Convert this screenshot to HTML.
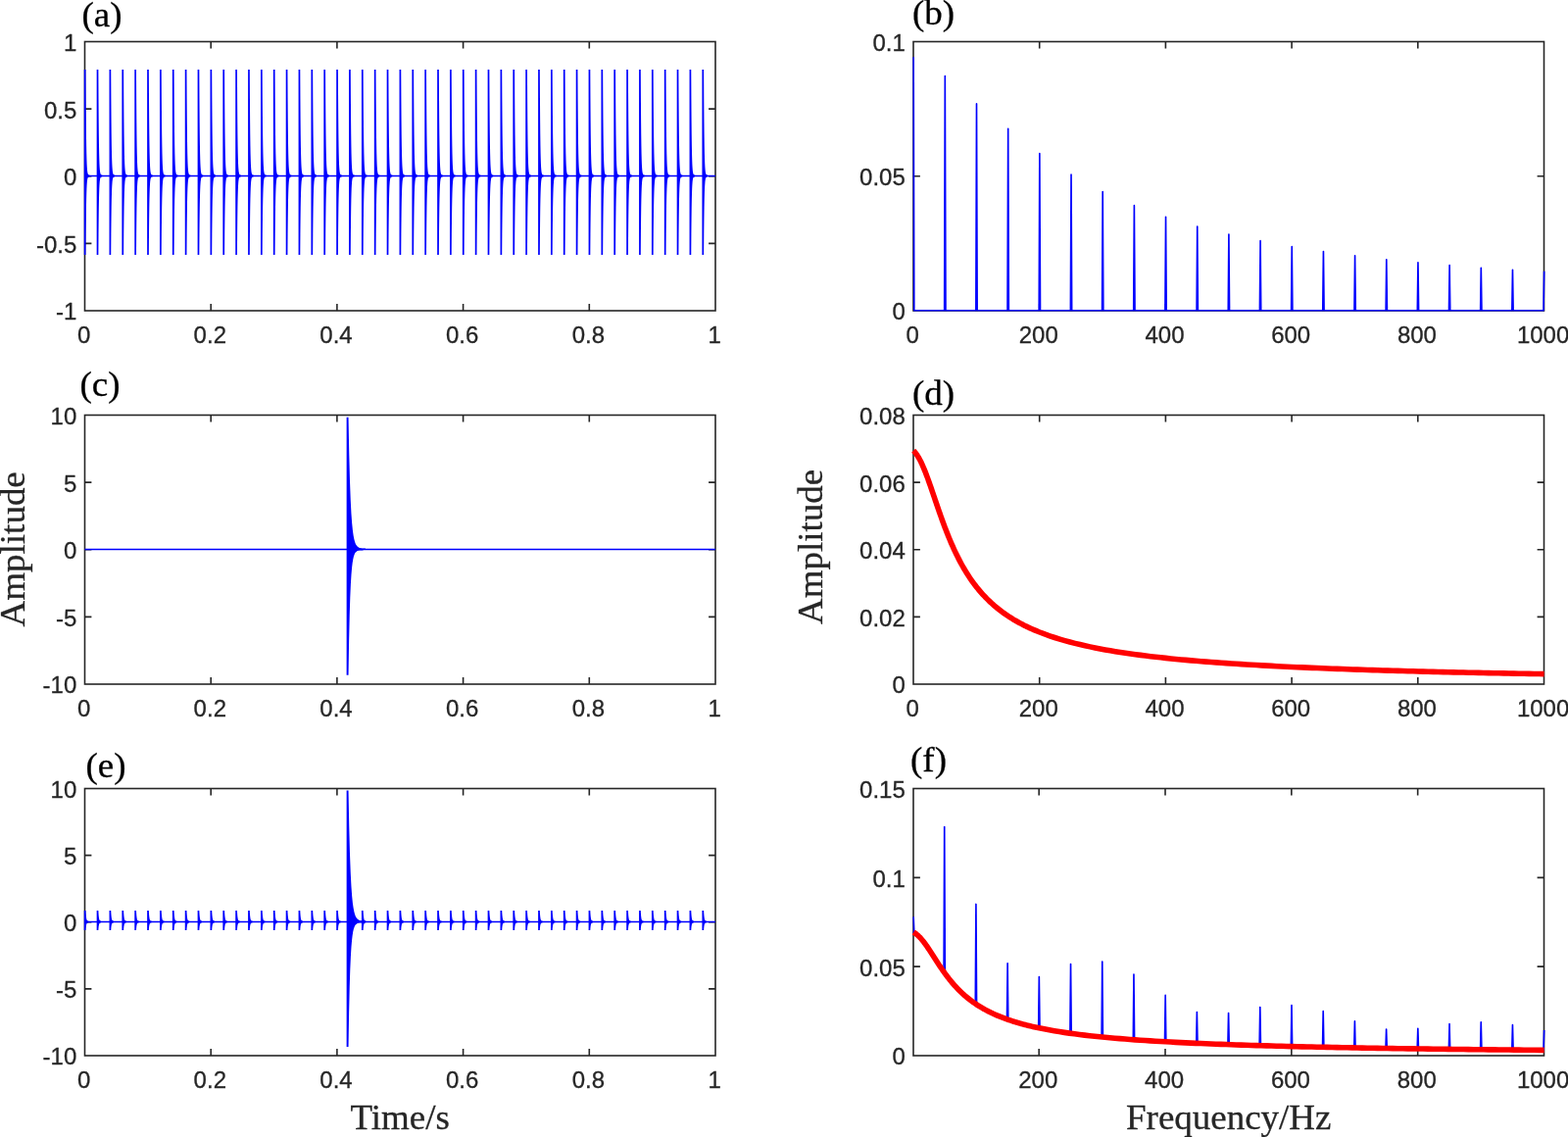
<!DOCTYPE html><html><head><meta charset="utf-8"><style>html,body{margin:0;padding:0;background:#fff;overflow:hidden}svg{display:block}.t{font-family:"Liberation Sans",Arial,sans-serif;font-size:24px;fill:#262626;stroke:#262626;stroke-width:0.3px}.s{font-family:"Liberation Serif","Times New Roman",serif;font-size:37px;stroke-width:0.3px}</style></head><body>
<svg width="1600" height="1160" viewBox="0 0 1600 1160">
<rect width="1600" height="1160" fill="#fff"/>
<defs><clipPath id="cpa"><rect x="82.5" y="38.5" width="651.5" height="282.5"/></clipPath><clipPath id="cpb"><rect x="928" y="38.5" width="651.5" height="282.5"/></clipPath><clipPath id="cpc"><rect x="82.5" y="419.5" width="651.5" height="282.5"/></clipPath><clipPath id="cpd"><rect x="928" y="419.5" width="651.5" height="282.5"/></clipPath><clipPath id="cpe"><rect x="82.5" y="800.5" width="651.5" height="280.5"/></clipPath><clipPath id="cpf"><rect x="928" y="800.5" width="651.5" height="280.5"/></clipPath></defs>
<path d="M215.2 317V310.1M215.2 42.5V49.4M343.9 317V310.1M343.9 42.5V49.4M472.6 317V310.1M472.6 42.5V49.4M601.3 317V310.1M601.3 42.5V49.4M86.5 248.38H93.4M730 248.38H723.1M86.5 179.75H93.4M730 179.75H723.1M86.5 111.12H93.4M730 111.12H723.1" stroke="#262626" stroke-width="1.6" fill="none"/>
<rect x="86.5" y="42.5" width="643.5" height="274.5" stroke="#262626" stroke-width="1.6" fill="none"/>
<path d="M1060.7 317V310.1M1060.7 42.5V49.4M1189.4 317V310.1M1189.4 42.5V49.4M1318.1 317V310.1M1318.1 42.5V49.4M1446.8 317V310.1M1446.8 42.5V49.4M932 179.75H938.9M1575.5 179.75H1568.6" stroke="#262626" stroke-width="1.6" fill="none"/>
<rect x="932" y="42.5" width="643.5" height="274.5" stroke="#262626" stroke-width="1.6" fill="none"/>
<path d="M215.2 698V691.1M215.2 423.5V430.4M343.9 698V691.1M343.9 423.5V430.4M472.6 698V691.1M472.6 423.5V430.4M601.3 698V691.1M601.3 423.5V430.4M86.5 629.38H93.4M730 629.38H723.1M86.5 560.75H93.4M730 560.75H723.1M86.5 492.12H93.4M730 492.12H723.1" stroke="#262626" stroke-width="1.6" fill="none"/>
<rect x="86.5" y="423.5" width="643.5" height="274.5" stroke="#262626" stroke-width="1.6" fill="none"/>
<path d="M1060.7 698V691.1M1060.7 423.5V430.4M1189.4 698V691.1M1189.4 423.5V430.4M1318.1 698V691.1M1318.1 423.5V430.4M1446.8 698V691.1M1446.8 423.5V430.4M932 629.38H938.9M1575.5 629.38H1568.6M932 560.75H938.9M1575.5 560.75H1568.6M932 492.12H938.9M1575.5 492.12H1568.6" stroke="#262626" stroke-width="1.6" fill="none"/>
<rect x="932" y="423.5" width="643.5" height="274.5" stroke="#262626" stroke-width="1.6" fill="none"/>
<path d="M215.2 1077V1070.1M215.2 804.5V811.4M343.9 1077V1070.1M343.9 804.5V811.4M472.6 1077V1070.1M472.6 804.5V811.4M601.3 1077V1070.1M601.3 804.5V811.4M86.5 1008.88H93.4M730 1008.88H723.1M86.5 940.75H93.4M730 940.75H723.1M86.5 872.62H93.4M730 872.62H723.1" stroke="#262626" stroke-width="1.6" fill="none"/>
<rect x="86.5" y="804.5" width="643.5" height="272.5" stroke="#262626" stroke-width="1.6" fill="none"/>
<path d="M1060.18 1077V1070.1M1060.18 804.5V811.4M1189.01 1077V1070.1M1189.01 804.5V811.4M1317.84 1077V1070.1M1317.84 804.5V811.4M1446.67 1077V1070.1M1446.67 804.5V811.4M932 986.17H938.9M1575.5 986.17H1568.6M932 895.33H938.9M1575.5 895.33H1568.6" stroke="#262626" stroke-width="1.6" fill="none"/>
<rect x="932" y="804.5" width="643.5" height="272.5" stroke="#262626" stroke-width="1.6" fill="none"/>
<g clip-path="url(#cpa)"><path d="M86.5 179.5H730" stroke="#0000ff" stroke-width="1.65" fill="none"/>
<path d="M85.80 71.00L87.50 71.00L87.66 100.47L87.82 121.87L87.98 137.42L88.14 148.71L88.30 156.91L88.46 162.87L88.62 167.19L88.78 170.34L88.94 172.62L89.10 174.28L89.26 175.48L89.42 176.35L89.58 176.99L89.74 177.45L89.90 177.79L90.06 178.03L90.22 178.21L90.38 178.33L90.54 178.43L90.70 178.50L90.86 178.54L91.02 178.58L91.18 178.61L91.34 178.62L91.34 179.50L91.19 180.38L91.03 180.39L90.88 180.42L90.73 180.45L90.57 180.50L90.42 180.56L90.27 180.64L90.11 180.75L89.96 180.91L89.80 181.12L89.65 181.40L89.50 181.79L89.34 182.32L89.19 183.04L89.04 184.01L88.88 185.34L88.73 187.15L88.58 189.60L88.42 192.94L88.27 197.47L88.11 203.64L87.96 212.02L87.81 223.42L87.65 238.92L87.50 260.00L85.80 260.00ZM98.67 71.00L100.37 71.00L100.53 100.47L100.69 121.87L100.85 137.42L101.01 148.71L101.17 156.91L101.33 162.87L101.49 167.19L101.65 170.34L101.81 172.62L101.97 174.28L102.13 175.48L102.29 176.35L102.45 176.99L102.61 177.45L102.77 177.79L102.93 178.03L103.09 178.21L103.25 178.33L103.41 178.43L103.57 178.50L103.73 178.54L103.89 178.58L104.05 178.61L104.21 178.62L104.21 179.50L104.06 180.38L103.90 180.39L103.75 180.42L103.60 180.45L103.44 180.50L103.29 180.56L103.14 180.64L102.98 180.75L102.83 180.91L102.67 181.12L102.52 181.40L102.37 181.79L102.21 182.32L102.06 183.04L101.91 184.01L101.75 185.34L101.60 187.15L101.45 189.60L101.29 192.94L101.14 197.47L100.98 203.64L100.83 212.02L100.68 223.42L100.52 238.92L100.37 260.00L98.67 260.00ZM111.54 71.00L113.24 71.00L113.40 100.47L113.56 121.87L113.72 137.42L113.88 148.71L114.04 156.91L114.20 162.87L114.36 167.19L114.52 170.34L114.68 172.62L114.84 174.28L115.00 175.48L115.16 176.35L115.32 176.99L115.48 177.45L115.64 177.79L115.80 178.03L115.96 178.21L116.12 178.33L116.28 178.43L116.44 178.50L116.60 178.54L116.76 178.58L116.92 178.61L117.08 178.62L117.08 179.50L116.93 180.38L116.77 180.39L116.62 180.42L116.47 180.45L116.31 180.50L116.16 180.56L116.01 180.64L115.85 180.75L115.70 180.91L115.54 181.12L115.39 181.40L115.24 181.79L115.08 182.32L114.93 183.04L114.78 184.01L114.62 185.34L114.47 187.15L114.32 189.60L114.16 192.94L114.01 197.47L113.85 203.64L113.70 212.02L113.55 223.42L113.39 238.92L113.24 260.00L111.54 260.00ZM124.41 71.00L126.11 71.00L126.27 100.47L126.43 121.87L126.59 137.42L126.75 148.71L126.91 156.91L127.07 162.87L127.23 167.19L127.39 170.34L127.55 172.62L127.71 174.28L127.87 175.48L128.03 176.35L128.19 176.99L128.35 177.45L128.51 177.79L128.67 178.03L128.83 178.21L128.99 178.33L129.15 178.43L129.31 178.50L129.47 178.54L129.63 178.58L129.79 178.61L129.95 178.62L129.95 179.50L129.80 180.38L129.64 180.39L129.49 180.42L129.34 180.45L129.18 180.50L129.03 180.56L128.88 180.64L128.72 180.75L128.57 180.91L128.41 181.12L128.26 181.40L128.11 181.79L127.95 182.32L127.80 183.04L127.65 184.01L127.49 185.34L127.34 187.15L127.19 189.60L127.03 192.94L126.88 197.47L126.72 203.64L126.57 212.02L126.42 223.42L126.26 238.92L126.11 260.00L124.41 260.00ZM137.28 71.00L138.98 71.00L139.14 100.47L139.30 121.87L139.46 137.42L139.62 148.71L139.78 156.91L139.94 162.87L140.10 167.19L140.26 170.34L140.42 172.62L140.58 174.28L140.74 175.48L140.90 176.35L141.06 176.99L141.22 177.45L141.38 177.79L141.54 178.03L141.70 178.21L141.86 178.33L142.02 178.43L142.18 178.50L142.34 178.54L142.50 178.58L142.66 178.61L142.82 178.62L142.82 179.50L142.67 180.38L142.51 180.39L142.36 180.42L142.21 180.45L142.05 180.50L141.90 180.56L141.75 180.64L141.59 180.75L141.44 180.91L141.28 181.12L141.13 181.40L140.98 181.79L140.82 182.32L140.67 183.04L140.52 184.01L140.36 185.34L140.21 187.15L140.06 189.60L139.90 192.94L139.75 197.47L139.59 203.64L139.44 212.02L139.29 223.42L139.13 238.92L138.98 260.00L137.28 260.00ZM150.15 71.00L151.85 71.00L152.01 100.47L152.17 121.87L152.33 137.42L152.49 148.71L152.65 156.91L152.81 162.87L152.97 167.19L153.13 170.34L153.29 172.62L153.45 174.28L153.61 175.48L153.77 176.35L153.93 176.99L154.09 177.45L154.25 177.79L154.41 178.03L154.57 178.21L154.73 178.33L154.89 178.43L155.05 178.50L155.21 178.54L155.37 178.58L155.53 178.61L155.69 178.62L155.69 179.50L155.54 180.38L155.38 180.39L155.23 180.42L155.08 180.45L154.92 180.50L154.77 180.56L154.62 180.64L154.46 180.75L154.31 180.91L154.15 181.12L154.00 181.40L153.85 181.79L153.69 182.32L153.54 183.04L153.39 184.01L153.23 185.34L153.08 187.15L152.93 189.60L152.77 192.94L152.62 197.47L152.46 203.64L152.31 212.02L152.16 223.42L152.00 238.92L151.85 260.00L150.15 260.00ZM163.02 71.00L164.72 71.00L164.88 100.47L165.04 121.87L165.20 137.42L165.36 148.71L165.52 156.91L165.68 162.87L165.84 167.19L166.00 170.34L166.16 172.62L166.32 174.28L166.48 175.48L166.64 176.35L166.80 176.99L166.96 177.45L167.12 177.79L167.28 178.03L167.44 178.21L167.60 178.33L167.76 178.43L167.92 178.50L168.08 178.54L168.24 178.58L168.40 178.61L168.56 178.62L168.56 179.50L168.41 180.38L168.25 180.39L168.10 180.42L167.95 180.45L167.79 180.50L167.64 180.56L167.49 180.64L167.33 180.75L167.18 180.91L167.02 181.12L166.87 181.40L166.72 181.79L166.56 182.32L166.41 183.04L166.26 184.01L166.10 185.34L165.95 187.15L165.80 189.60L165.64 192.94L165.49 197.47L165.33 203.64L165.18 212.02L165.03 223.42L164.87 238.92L164.72 260.00L163.02 260.00ZM175.89 71.00L177.59 71.00L177.75 100.47L177.91 121.87L178.07 137.42L178.23 148.71L178.39 156.91L178.55 162.87L178.71 167.19L178.87 170.34L179.03 172.62L179.19 174.28L179.35 175.48L179.51 176.35L179.67 176.99L179.83 177.45L179.99 177.79L180.15 178.03L180.31 178.21L180.47 178.33L180.63 178.43L180.79 178.50L180.95 178.54L181.11 178.58L181.27 178.61L181.43 178.62L181.43 179.50L181.28 180.38L181.12 180.39L180.97 180.42L180.82 180.45L180.66 180.50L180.51 180.56L180.36 180.64L180.20 180.75L180.05 180.91L179.89 181.12L179.74 181.40L179.59 181.79L179.43 182.32L179.28 183.04L179.13 184.01L178.97 185.34L178.82 187.15L178.67 189.60L178.51 192.94L178.36 197.47L178.20 203.64L178.05 212.02L177.90 223.42L177.74 238.92L177.59 260.00L175.89 260.00ZM188.76 71.00L190.46 71.00L190.62 100.47L190.78 121.87L190.94 137.42L191.10 148.71L191.26 156.91L191.42 162.87L191.58 167.19L191.74 170.34L191.90 172.62L192.06 174.28L192.22 175.48L192.38 176.35L192.54 176.99L192.70 177.45L192.86 177.79L193.02 178.03L193.18 178.21L193.34 178.33L193.50 178.43L193.66 178.50L193.82 178.54L193.98 178.58L194.14 178.61L194.30 178.62L194.30 179.50L194.15 180.38L193.99 180.39L193.84 180.42L193.69 180.45L193.53 180.50L193.38 180.56L193.23 180.64L193.07 180.75L192.92 180.91L192.76 181.12L192.61 181.40L192.46 181.79L192.30 182.32L192.15 183.04L192.00 184.01L191.84 185.34L191.69 187.15L191.54 189.60L191.38 192.94L191.23 197.47L191.07 203.64L190.92 212.02L190.77 223.42L190.61 238.92L190.46 260.00L188.76 260.00ZM201.63 71.00L203.33 71.00L203.49 100.47L203.65 121.87L203.81 137.42L203.97 148.71L204.13 156.91L204.29 162.87L204.45 167.19L204.61 170.34L204.77 172.62L204.93 174.28L205.09 175.48L205.25 176.35L205.41 176.99L205.57 177.45L205.73 177.79L205.89 178.03L206.05 178.21L206.21 178.33L206.37 178.43L206.53 178.50L206.69 178.54L206.85 178.58L207.01 178.61L207.17 178.62L207.17 179.50L207.02 180.38L206.86 180.39L206.71 180.42L206.56 180.45L206.40 180.50L206.25 180.56L206.10 180.64L205.94 180.75L205.79 180.91L205.63 181.12L205.48 181.40L205.33 181.79L205.17 182.32L205.02 183.04L204.87 184.01L204.71 185.34L204.56 187.15L204.41 189.60L204.25 192.94L204.10 197.47L203.94 203.64L203.79 212.02L203.64 223.42L203.48 238.92L203.33 260.00L201.63 260.00ZM214.50 71.00L216.20 71.00L216.36 100.47L216.52 121.87L216.68 137.42L216.84 148.71L217.00 156.91L217.16 162.87L217.32 167.19L217.48 170.34L217.64 172.62L217.80 174.28L217.96 175.48L218.12 176.35L218.28 176.99L218.44 177.45L218.60 177.79L218.76 178.03L218.92 178.21L219.08 178.33L219.24 178.43L219.40 178.50L219.56 178.54L219.72 178.58L219.88 178.61L220.04 178.62L220.04 179.50L219.89 180.38L219.73 180.39L219.58 180.42L219.43 180.45L219.27 180.50L219.12 180.56L218.97 180.64L218.81 180.75L218.66 180.91L218.50 181.12L218.35 181.40L218.20 181.79L218.04 182.32L217.89 183.04L217.74 184.01L217.58 185.34L217.43 187.15L217.28 189.60L217.12 192.94L216.97 197.47L216.81 203.64L216.66 212.02L216.51 223.42L216.35 238.92L216.20 260.00L214.50 260.00ZM227.37 71.00L229.07 71.00L229.23 100.47L229.39 121.87L229.55 137.42L229.71 148.71L229.87 156.91L230.03 162.87L230.19 167.19L230.35 170.34L230.51 172.62L230.67 174.28L230.83 175.48L230.99 176.35L231.15 176.99L231.31 177.45L231.47 177.79L231.63 178.03L231.79 178.21L231.95 178.33L232.11 178.43L232.27 178.50L232.43 178.54L232.59 178.58L232.75 178.61L232.91 178.62L232.91 179.50L232.76 180.38L232.60 180.39L232.45 180.42L232.30 180.45L232.14 180.50L231.99 180.56L231.84 180.64L231.68 180.75L231.53 180.91L231.37 181.12L231.22 181.40L231.07 181.79L230.91 182.32L230.76 183.04L230.61 184.01L230.45 185.34L230.30 187.15L230.15 189.60L229.99 192.94L229.84 197.47L229.68 203.64L229.53 212.02L229.38 223.42L229.22 238.92L229.07 260.00L227.37 260.00ZM240.24 71.00L241.94 71.00L242.10 100.47L242.26 121.87L242.42 137.42L242.58 148.71L242.74 156.91L242.90 162.87L243.06 167.19L243.22 170.34L243.38 172.62L243.54 174.28L243.70 175.48L243.86 176.35L244.02 176.99L244.18 177.45L244.34 177.79L244.50 178.03L244.66 178.21L244.82 178.33L244.98 178.43L245.14 178.50L245.30 178.54L245.46 178.58L245.62 178.61L245.78 178.62L245.78 179.50L245.63 180.38L245.47 180.39L245.32 180.42L245.17 180.45L245.01 180.50L244.86 180.56L244.71 180.64L244.55 180.75L244.40 180.91L244.24 181.12L244.09 181.40L243.94 181.79L243.78 182.32L243.63 183.04L243.48 184.01L243.32 185.34L243.17 187.15L243.02 189.60L242.86 192.94L242.71 197.47L242.55 203.64L242.40 212.02L242.25 223.42L242.09 238.92L241.94 260.00L240.24 260.00ZM253.11 71.00L254.81 71.00L254.97 100.47L255.13 121.87L255.29 137.42L255.45 148.71L255.61 156.91L255.77 162.87L255.93 167.19L256.09 170.34L256.25 172.62L256.41 174.28L256.57 175.48L256.73 176.35L256.89 176.99L257.05 177.45L257.21 177.79L257.37 178.03L257.53 178.21L257.69 178.33L257.85 178.43L258.01 178.50L258.17 178.54L258.33 178.58L258.49 178.61L258.65 178.62L258.65 179.50L258.50 180.38L258.34 180.39L258.19 180.42L258.04 180.45L257.88 180.50L257.73 180.56L257.58 180.64L257.42 180.75L257.27 180.91L257.11 181.12L256.96 181.40L256.81 181.79L256.65 182.32L256.50 183.04L256.35 184.01L256.19 185.34L256.04 187.15L255.89 189.60L255.73 192.94L255.58 197.47L255.42 203.64L255.27 212.02L255.12 223.42L254.96 238.92L254.81 260.00L253.11 260.00ZM265.98 71.00L267.68 71.00L267.84 100.47L268.00 121.87L268.16 137.42L268.32 148.71L268.48 156.91L268.64 162.87L268.80 167.19L268.96 170.34L269.12 172.62L269.28 174.28L269.44 175.48L269.60 176.35L269.76 176.99L269.92 177.45L270.08 177.79L270.24 178.03L270.40 178.21L270.56 178.33L270.72 178.43L270.88 178.50L271.04 178.54L271.20 178.58L271.36 178.61L271.52 178.62L271.52 179.50L271.37 180.38L271.21 180.39L271.06 180.42L270.91 180.45L270.75 180.50L270.60 180.56L270.45 180.64L270.29 180.75L270.14 180.91L269.98 181.12L269.83 181.40L269.68 181.79L269.52 182.32L269.37 183.04L269.22 184.01L269.06 185.34L268.91 187.15L268.76 189.60L268.60 192.94L268.45 197.47L268.29 203.64L268.14 212.02L267.99 223.42L267.83 238.92L267.68 260.00L265.98 260.00ZM278.85 71.00L280.55 71.00L280.71 100.47L280.87 121.87L281.03 137.42L281.19 148.71L281.35 156.91L281.51 162.87L281.67 167.19L281.83 170.34L281.99 172.62L282.15 174.28L282.31 175.48L282.47 176.35L282.63 176.99L282.79 177.45L282.95 177.79L283.11 178.03L283.27 178.21L283.43 178.33L283.59 178.43L283.75 178.50L283.91 178.54L284.07 178.58L284.23 178.61L284.39 178.62L284.39 179.50L284.24 180.38L284.08 180.39L283.93 180.42L283.78 180.45L283.62 180.50L283.47 180.56L283.32 180.64L283.16 180.75L283.01 180.91L282.85 181.12L282.70 181.40L282.55 181.79L282.39 182.32L282.24 183.04L282.09 184.01L281.93 185.34L281.78 187.15L281.63 189.60L281.47 192.94L281.32 197.47L281.16 203.64L281.01 212.02L280.86 223.42L280.70 238.92L280.55 260.00L278.85 260.00ZM291.72 71.00L293.42 71.00L293.58 100.47L293.74 121.87L293.90 137.42L294.06 148.71L294.22 156.91L294.38 162.87L294.54 167.19L294.70 170.34L294.86 172.62L295.02 174.28L295.18 175.48L295.34 176.35L295.50 176.99L295.66 177.45L295.82 177.79L295.98 178.03L296.14 178.21L296.30 178.33L296.46 178.43L296.62 178.50L296.78 178.54L296.94 178.58L297.10 178.61L297.26 178.62L297.26 179.50L297.11 180.38L296.95 180.39L296.80 180.42L296.65 180.45L296.49 180.50L296.34 180.56L296.19 180.64L296.03 180.75L295.88 180.91L295.72 181.12L295.57 181.40L295.42 181.79L295.26 182.32L295.11 183.04L294.96 184.01L294.80 185.34L294.65 187.15L294.50 189.60L294.34 192.94L294.19 197.47L294.03 203.64L293.88 212.02L293.73 223.42L293.57 238.92L293.42 260.00L291.72 260.00ZM304.59 71.00L306.29 71.00L306.45 100.47L306.61 121.87L306.77 137.42L306.93 148.71L307.09 156.91L307.25 162.87L307.41 167.19L307.57 170.34L307.73 172.62L307.89 174.28L308.05 175.48L308.21 176.35L308.37 176.99L308.53 177.45L308.69 177.79L308.85 178.03L309.01 178.21L309.17 178.33L309.33 178.43L309.49 178.50L309.65 178.54L309.81 178.58L309.97 178.61L310.13 178.62L310.13 179.50L309.98 180.38L309.82 180.39L309.67 180.42L309.52 180.45L309.36 180.50L309.21 180.56L309.06 180.64L308.90 180.75L308.75 180.91L308.59 181.12L308.44 181.40L308.29 181.79L308.13 182.32L307.98 183.04L307.83 184.01L307.67 185.34L307.52 187.15L307.37 189.60L307.21 192.94L307.06 197.47L306.90 203.64L306.75 212.02L306.60 223.42L306.44 238.92L306.29 260.00L304.59 260.00ZM317.46 71.00L319.16 71.00L319.32 100.47L319.48 121.87L319.64 137.42L319.80 148.71L319.96 156.91L320.12 162.87L320.28 167.19L320.44 170.34L320.60 172.62L320.76 174.28L320.92 175.48L321.08 176.35L321.24 176.99L321.40 177.45L321.56 177.79L321.72 178.03L321.88 178.21L322.04 178.33L322.20 178.43L322.36 178.50L322.52 178.54L322.68 178.58L322.84 178.61L323.00 178.62L323.00 179.50L322.85 180.38L322.69 180.39L322.54 180.42L322.39 180.45L322.23 180.50L322.08 180.56L321.93 180.64L321.77 180.75L321.62 180.91L321.46 181.12L321.31 181.40L321.16 181.79L321.00 182.32L320.85 183.04L320.70 184.01L320.54 185.34L320.39 187.15L320.24 189.60L320.08 192.94L319.93 197.47L319.77 203.64L319.62 212.02L319.47 223.42L319.31 238.92L319.16 260.00L317.46 260.00ZM330.33 71.00L332.03 71.00L332.19 100.47L332.35 121.87L332.51 137.42L332.67 148.71L332.83 156.91L332.99 162.87L333.15 167.19L333.31 170.34L333.47 172.62L333.63 174.28L333.79 175.48L333.95 176.35L334.11 176.99L334.27 177.45L334.43 177.79L334.59 178.03L334.75 178.21L334.91 178.33L335.07 178.43L335.23 178.50L335.39 178.54L335.55 178.58L335.71 178.61L335.87 178.62L335.87 179.50L335.72 180.38L335.56 180.39L335.41 180.42L335.26 180.45L335.10 180.50L334.95 180.56L334.80 180.64L334.64 180.75L334.49 180.91L334.33 181.12L334.18 181.40L334.03 181.79L333.87 182.32L333.72 183.04L333.57 184.01L333.41 185.34L333.26 187.15L333.11 189.60L332.95 192.94L332.80 197.47L332.64 203.64L332.49 212.02L332.34 223.42L332.18 238.92L332.03 260.00L330.33 260.00ZM343.20 71.00L344.90 71.00L345.06 100.47L345.22 121.87L345.38 137.42L345.54 148.71L345.70 156.91L345.86 162.87L346.02 167.19L346.18 170.34L346.34 172.62L346.50 174.28L346.66 175.48L346.82 176.35L346.98 176.99L347.14 177.45L347.30 177.79L347.46 178.03L347.62 178.21L347.78 178.33L347.94 178.43L348.10 178.50L348.26 178.54L348.42 178.58L348.58 178.61L348.74 178.62L348.74 179.50L348.59 180.38L348.43 180.39L348.28 180.42L348.13 180.45L347.97 180.50L347.82 180.56L347.67 180.64L347.51 180.75L347.36 180.91L347.20 181.12L347.05 181.40L346.90 181.79L346.74 182.32L346.59 183.04L346.44 184.01L346.28 185.34L346.13 187.15L345.98 189.60L345.82 192.94L345.67 197.47L345.51 203.64L345.36 212.02L345.21 223.42L345.05 238.92L344.90 260.00L343.20 260.00ZM356.07 71.00L357.77 71.00L357.93 100.47L358.09 121.87L358.25 137.42L358.41 148.71L358.57 156.91L358.73 162.87L358.89 167.19L359.05 170.34L359.21 172.62L359.37 174.28L359.53 175.48L359.69 176.35L359.85 176.99L360.01 177.45L360.17 177.79L360.33 178.03L360.49 178.21L360.65 178.33L360.81 178.43L360.97 178.50L361.13 178.54L361.29 178.58L361.45 178.61L361.61 178.62L361.61 179.50L361.46 180.38L361.30 180.39L361.15 180.42L361.00 180.45L360.84 180.50L360.69 180.56L360.54 180.64L360.38 180.75L360.23 180.91L360.07 181.12L359.92 181.40L359.77 181.79L359.61 182.32L359.46 183.04L359.31 184.01L359.15 185.34L359.00 187.15L358.85 189.60L358.69 192.94L358.54 197.47L358.38 203.64L358.23 212.02L358.08 223.42L357.92 238.92L357.77 260.00L356.07 260.00ZM368.94 71.00L370.64 71.00L370.80 100.47L370.96 121.87L371.12 137.42L371.28 148.71L371.44 156.91L371.60 162.87L371.76 167.19L371.92 170.34L372.08 172.62L372.24 174.28L372.40 175.48L372.56 176.35L372.72 176.99L372.88 177.45L373.04 177.79L373.20 178.03L373.36 178.21L373.52 178.33L373.68 178.43L373.84 178.50L374.00 178.54L374.16 178.58L374.32 178.61L374.48 178.62L374.48 179.50L374.33 180.38L374.17 180.39L374.02 180.42L373.87 180.45L373.71 180.50L373.56 180.56L373.41 180.64L373.25 180.75L373.10 180.91L372.94 181.12L372.79 181.40L372.64 181.79L372.48 182.32L372.33 183.04L372.18 184.01L372.02 185.34L371.87 187.15L371.72 189.60L371.56 192.94L371.41 197.47L371.25 203.64L371.10 212.02L370.95 223.42L370.79 238.92L370.64 260.00L368.94 260.00ZM381.81 71.00L383.51 71.00L383.67 100.47L383.83 121.87L383.99 137.42L384.15 148.71L384.31 156.91L384.47 162.87L384.63 167.19L384.79 170.34L384.95 172.62L385.11 174.28L385.27 175.48L385.43 176.35L385.59 176.99L385.75 177.45L385.91 177.79L386.07 178.03L386.23 178.21L386.39 178.33L386.55 178.43L386.71 178.50L386.87 178.54L387.03 178.58L387.19 178.61L387.35 178.62L387.35 179.50L387.20 180.38L387.04 180.39L386.89 180.42L386.74 180.45L386.58 180.50L386.43 180.56L386.28 180.64L386.12 180.75L385.97 180.91L385.81 181.12L385.66 181.40L385.51 181.79L385.35 182.32L385.20 183.04L385.05 184.01L384.89 185.34L384.74 187.15L384.59 189.60L384.43 192.94L384.28 197.47L384.12 203.64L383.97 212.02L383.82 223.42L383.66 238.92L383.51 260.00L381.81 260.00ZM394.68 71.00L396.38 71.00L396.54 100.47L396.70 121.87L396.86 137.42L397.02 148.71L397.18 156.91L397.34 162.87L397.50 167.19L397.66 170.34L397.82 172.62L397.98 174.28L398.14 175.48L398.30 176.35L398.46 176.99L398.62 177.45L398.78 177.79L398.94 178.03L399.10 178.21L399.26 178.33L399.42 178.43L399.58 178.50L399.74 178.54L399.90 178.58L400.06 178.61L400.22 178.62L400.22 179.50L400.07 180.38L399.91 180.39L399.76 180.42L399.61 180.45L399.45 180.50L399.30 180.56L399.15 180.64L398.99 180.75L398.84 180.91L398.68 181.12L398.53 181.40L398.38 181.79L398.22 182.32L398.07 183.04L397.92 184.01L397.76 185.34L397.61 187.15L397.46 189.60L397.30 192.94L397.15 197.47L396.99 203.64L396.84 212.02L396.69 223.42L396.53 238.92L396.38 260.00L394.68 260.00ZM407.55 71.00L409.25 71.00L409.41 100.47L409.57 121.87L409.73 137.42L409.89 148.71L410.05 156.91L410.21 162.87L410.37 167.19L410.53 170.34L410.69 172.62L410.85 174.28L411.01 175.48L411.17 176.35L411.33 176.99L411.49 177.45L411.65 177.79L411.81 178.03L411.97 178.21L412.13 178.33L412.29 178.43L412.45 178.50L412.61 178.54L412.77 178.58L412.93 178.61L413.09 178.62L413.09 179.50L412.94 180.38L412.78 180.39L412.63 180.42L412.48 180.45L412.32 180.50L412.17 180.56L412.02 180.64L411.86 180.75L411.71 180.91L411.55 181.12L411.40 181.40L411.25 181.79L411.09 182.32L410.94 183.04L410.79 184.01L410.63 185.34L410.48 187.15L410.33 189.60L410.17 192.94L410.02 197.47L409.86 203.64L409.71 212.02L409.56 223.42L409.40 238.92L409.25 260.00L407.55 260.00ZM420.42 71.00L422.12 71.00L422.28 100.47L422.44 121.87L422.60 137.42L422.76 148.71L422.92 156.91L423.08 162.87L423.24 167.19L423.40 170.34L423.56 172.62L423.72 174.28L423.88 175.48L424.04 176.35L424.20 176.99L424.36 177.45L424.52 177.79L424.68 178.03L424.84 178.21L425.00 178.33L425.16 178.43L425.32 178.50L425.48 178.54L425.64 178.58L425.80 178.61L425.96 178.62L425.96 179.50L425.81 180.38L425.65 180.39L425.50 180.42L425.35 180.45L425.19 180.50L425.04 180.56L424.89 180.64L424.73 180.75L424.58 180.91L424.42 181.12L424.27 181.40L424.12 181.79L423.96 182.32L423.81 183.04L423.66 184.01L423.50 185.34L423.35 187.15L423.20 189.60L423.04 192.94L422.89 197.47L422.73 203.64L422.58 212.02L422.43 223.42L422.27 238.92L422.12 260.00L420.42 260.00ZM433.29 71.00L434.99 71.00L435.15 100.47L435.31 121.87L435.47 137.42L435.63 148.71L435.79 156.91L435.95 162.87L436.11 167.19L436.27 170.34L436.43 172.62L436.59 174.28L436.75 175.48L436.91 176.35L437.07 176.99L437.23 177.45L437.39 177.79L437.55 178.03L437.71 178.21L437.87 178.33L438.03 178.43L438.19 178.50L438.35 178.54L438.51 178.58L438.67 178.61L438.83 178.62L438.83 179.50L438.68 180.38L438.52 180.39L438.37 180.42L438.22 180.45L438.06 180.50L437.91 180.56L437.76 180.64L437.60 180.75L437.45 180.91L437.29 181.12L437.14 181.40L436.99 181.79L436.83 182.32L436.68 183.04L436.53 184.01L436.37 185.34L436.22 187.15L436.07 189.60L435.91 192.94L435.76 197.47L435.60 203.64L435.45 212.02L435.30 223.42L435.14 238.92L434.99 260.00L433.29 260.00ZM446.16 71.00L447.86 71.00L448.02 100.47L448.18 121.87L448.34 137.42L448.50 148.71L448.66 156.91L448.82 162.87L448.98 167.19L449.14 170.34L449.30 172.62L449.46 174.28L449.62 175.48L449.78 176.35L449.94 176.99L450.10 177.45L450.26 177.79L450.42 178.03L450.58 178.21L450.74 178.33L450.90 178.43L451.06 178.50L451.22 178.54L451.38 178.58L451.54 178.61L451.70 178.62L451.70 179.50L451.55 180.38L451.39 180.39L451.24 180.42L451.09 180.45L450.93 180.50L450.78 180.56L450.63 180.64L450.47 180.75L450.32 180.91L450.16 181.12L450.01 181.40L449.86 181.79L449.70 182.32L449.55 183.04L449.40 184.01L449.24 185.34L449.09 187.15L448.94 189.60L448.78 192.94L448.63 197.47L448.47 203.64L448.32 212.02L448.17 223.42L448.01 238.92L447.86 260.00L446.16 260.00ZM459.03 71.00L460.73 71.00L460.89 100.47L461.05 121.87L461.21 137.42L461.37 148.71L461.53 156.91L461.69 162.87L461.85 167.19L462.01 170.34L462.17 172.62L462.33 174.28L462.49 175.48L462.65 176.35L462.81 176.99L462.97 177.45L463.13 177.79L463.29 178.03L463.45 178.21L463.61 178.33L463.77 178.43L463.93 178.50L464.09 178.54L464.25 178.58L464.41 178.61L464.57 178.62L464.57 179.50L464.42 180.38L464.26 180.39L464.11 180.42L463.96 180.45L463.80 180.50L463.65 180.56L463.50 180.64L463.34 180.75L463.19 180.91L463.03 181.12L462.88 181.40L462.73 181.79L462.57 182.32L462.42 183.04L462.27 184.01L462.11 185.34L461.96 187.15L461.81 189.60L461.65 192.94L461.50 197.47L461.34 203.64L461.19 212.02L461.04 223.42L460.88 238.92L460.73 260.00L459.03 260.00ZM471.90 71.00L473.60 71.00L473.76 100.47L473.92 121.87L474.08 137.42L474.24 148.71L474.40 156.91L474.56 162.87L474.72 167.19L474.88 170.34L475.04 172.62L475.20 174.28L475.36 175.48L475.52 176.35L475.68 176.99L475.84 177.45L476.00 177.79L476.16 178.03L476.32 178.21L476.48 178.33L476.64 178.43L476.80 178.50L476.96 178.54L477.12 178.58L477.28 178.61L477.44 178.62L477.44 179.50L477.29 180.38L477.13 180.39L476.98 180.42L476.83 180.45L476.67 180.50L476.52 180.56L476.37 180.64L476.21 180.75L476.06 180.91L475.90 181.12L475.75 181.40L475.60 181.79L475.44 182.32L475.29 183.04L475.14 184.01L474.98 185.34L474.83 187.15L474.68 189.60L474.52 192.94L474.37 197.47L474.21 203.64L474.06 212.02L473.91 223.42L473.75 238.92L473.60 260.00L471.90 260.00ZM484.77 71.00L486.47 71.00L486.63 100.47L486.79 121.87L486.95 137.42L487.11 148.71L487.27 156.91L487.43 162.87L487.59 167.19L487.75 170.34L487.91 172.62L488.07 174.28L488.23 175.48L488.39 176.35L488.55 176.99L488.71 177.45L488.87 177.79L489.03 178.03L489.19 178.21L489.35 178.33L489.51 178.43L489.67 178.50L489.83 178.54L489.99 178.58L490.15 178.61L490.31 178.62L490.31 179.50L490.16 180.38L490.00 180.39L489.85 180.42L489.70 180.45L489.54 180.50L489.39 180.56L489.24 180.64L489.08 180.75L488.93 180.91L488.77 181.12L488.62 181.40L488.47 181.79L488.31 182.32L488.16 183.04L488.01 184.01L487.85 185.34L487.70 187.15L487.55 189.60L487.39 192.94L487.24 197.47L487.08 203.64L486.93 212.02L486.78 223.42L486.62 238.92L486.47 260.00L484.77 260.00ZM497.64 71.00L499.34 71.00L499.50 100.47L499.66 121.87L499.82 137.42L499.98 148.71L500.14 156.91L500.30 162.87L500.46 167.19L500.62 170.34L500.78 172.62L500.94 174.28L501.10 175.48L501.26 176.35L501.42 176.99L501.58 177.45L501.74 177.79L501.90 178.03L502.06 178.21L502.22 178.33L502.38 178.43L502.54 178.50L502.70 178.54L502.86 178.58L503.02 178.61L503.18 178.62L503.18 179.50L503.03 180.38L502.87 180.39L502.72 180.42L502.57 180.45L502.41 180.50L502.26 180.56L502.11 180.64L501.95 180.75L501.80 180.91L501.64 181.12L501.49 181.40L501.34 181.79L501.18 182.32L501.03 183.04L500.88 184.01L500.72 185.34L500.57 187.15L500.42 189.60L500.26 192.94L500.11 197.47L499.95 203.64L499.80 212.02L499.65 223.42L499.49 238.92L499.34 260.00L497.64 260.00ZM510.51 71.00L512.21 71.00L512.37 100.47L512.53 121.87L512.69 137.42L512.85 148.71L513.01 156.91L513.17 162.87L513.33 167.19L513.49 170.34L513.65 172.62L513.81 174.28L513.97 175.48L514.13 176.35L514.29 176.99L514.45 177.45L514.61 177.79L514.77 178.03L514.93 178.21L515.09 178.33L515.25 178.43L515.41 178.50L515.57 178.54L515.73 178.58L515.89 178.61L516.05 178.62L516.05 179.50L515.90 180.38L515.74 180.39L515.59 180.42L515.44 180.45L515.28 180.50L515.13 180.56L514.98 180.64L514.82 180.75L514.67 180.91L514.51 181.12L514.36 181.40L514.21 181.79L514.05 182.32L513.90 183.04L513.75 184.01L513.59 185.34L513.44 187.15L513.29 189.60L513.13 192.94L512.98 197.47L512.82 203.64L512.67 212.02L512.52 223.42L512.36 238.92L512.21 260.00L510.51 260.00ZM523.38 71.00L525.08 71.00L525.24 100.47L525.40 121.87L525.56 137.42L525.72 148.71L525.88 156.91L526.04 162.87L526.20 167.19L526.36 170.34L526.52 172.62L526.68 174.28L526.84 175.48L527.00 176.35L527.16 176.99L527.32 177.45L527.48 177.79L527.64 178.03L527.80 178.21L527.96 178.33L528.12 178.43L528.28 178.50L528.44 178.54L528.60 178.58L528.76 178.61L528.92 178.62L528.92 179.50L528.77 180.38L528.61 180.39L528.46 180.42L528.31 180.45L528.15 180.50L528.00 180.56L527.85 180.64L527.69 180.75L527.54 180.91L527.38 181.12L527.23 181.40L527.08 181.79L526.92 182.32L526.77 183.04L526.62 184.01L526.46 185.34L526.31 187.15L526.16 189.60L526.00 192.94L525.85 197.47L525.69 203.64L525.54 212.02L525.39 223.42L525.23 238.92L525.08 260.00L523.38 260.00ZM536.25 71.00L537.95 71.00L538.11 100.47L538.27 121.87L538.43 137.42L538.59 148.71L538.75 156.91L538.91 162.87L539.07 167.19L539.23 170.34L539.39 172.62L539.55 174.28L539.71 175.48L539.87 176.35L540.03 176.99L540.19 177.45L540.35 177.79L540.51 178.03L540.67 178.21L540.83 178.33L540.99 178.43L541.15 178.50L541.31 178.54L541.47 178.58L541.63 178.61L541.79 178.62L541.79 179.50L541.64 180.38L541.48 180.39L541.33 180.42L541.18 180.45L541.02 180.50L540.87 180.56L540.72 180.64L540.56 180.75L540.41 180.91L540.25 181.12L540.10 181.40L539.95 181.79L539.79 182.32L539.64 183.04L539.49 184.01L539.33 185.34L539.18 187.15L539.03 189.60L538.87 192.94L538.72 197.47L538.56 203.64L538.41 212.02L538.26 223.42L538.10 238.92L537.95 260.00L536.25 260.00ZM549.12 71.00L550.82 71.00L550.98 100.47L551.14 121.87L551.30 137.42L551.46 148.71L551.62 156.91L551.78 162.87L551.94 167.19L552.10 170.34L552.26 172.62L552.42 174.28L552.58 175.48L552.74 176.35L552.90 176.99L553.06 177.45L553.22 177.79L553.38 178.03L553.54 178.21L553.70 178.33L553.86 178.43L554.02 178.50L554.18 178.54L554.34 178.58L554.50 178.61L554.66 178.62L554.66 179.50L554.51 180.38L554.35 180.39L554.20 180.42L554.05 180.45L553.89 180.50L553.74 180.56L553.59 180.64L553.43 180.75L553.28 180.91L553.12 181.12L552.97 181.40L552.82 181.79L552.66 182.32L552.51 183.04L552.36 184.01L552.20 185.34L552.05 187.15L551.90 189.60L551.74 192.94L551.59 197.47L551.43 203.64L551.28 212.02L551.13 223.42L550.97 238.92L550.82 260.00L549.12 260.00ZM561.99 71.00L563.69 71.00L563.85 100.47L564.01 121.87L564.17 137.42L564.33 148.71L564.49 156.91L564.65 162.87L564.81 167.19L564.97 170.34L565.13 172.62L565.29 174.28L565.45 175.48L565.61 176.35L565.77 176.99L565.93 177.45L566.09 177.79L566.25 178.03L566.41 178.21L566.57 178.33L566.73 178.43L566.89 178.50L567.05 178.54L567.21 178.58L567.37 178.61L567.53 178.62L567.53 179.50L567.38 180.38L567.22 180.39L567.07 180.42L566.92 180.45L566.76 180.50L566.61 180.56L566.46 180.64L566.30 180.75L566.15 180.91L565.99 181.12L565.84 181.40L565.69 181.79L565.53 182.32L565.38 183.04L565.23 184.01L565.07 185.34L564.92 187.15L564.77 189.60L564.61 192.94L564.46 197.47L564.30 203.64L564.15 212.02L564.00 223.42L563.84 238.92L563.69 260.00L561.99 260.00ZM574.86 71.00L576.56 71.00L576.72 100.47L576.88 121.87L577.04 137.42L577.20 148.71L577.36 156.91L577.52 162.87L577.68 167.19L577.84 170.34L578.00 172.62L578.16 174.28L578.32 175.48L578.48 176.35L578.64 176.99L578.80 177.45L578.96 177.79L579.12 178.03L579.28 178.21L579.44 178.33L579.60 178.43L579.76 178.50L579.92 178.54L580.08 178.58L580.24 178.61L580.40 178.62L580.40 179.50L580.25 180.38L580.09 180.39L579.94 180.42L579.79 180.45L579.63 180.50L579.48 180.56L579.33 180.64L579.17 180.75L579.02 180.91L578.86 181.12L578.71 181.40L578.56 181.79L578.40 182.32L578.25 183.04L578.10 184.01L577.94 185.34L577.79 187.15L577.64 189.60L577.48 192.94L577.33 197.47L577.17 203.64L577.02 212.02L576.87 223.42L576.71 238.92L576.56 260.00L574.86 260.00ZM587.73 71.00L589.43 71.00L589.59 100.47L589.75 121.87L589.91 137.42L590.07 148.71L590.23 156.91L590.39 162.87L590.55 167.19L590.71 170.34L590.87 172.62L591.03 174.28L591.19 175.48L591.35 176.35L591.51 176.99L591.67 177.45L591.83 177.79L591.99 178.03L592.15 178.21L592.31 178.33L592.47 178.43L592.63 178.50L592.79 178.54L592.95 178.58L593.11 178.61L593.27 178.62L593.27 179.50L593.12 180.38L592.96 180.39L592.81 180.42L592.66 180.45L592.50 180.50L592.35 180.56L592.20 180.64L592.04 180.75L591.89 180.91L591.73 181.12L591.58 181.40L591.43 181.79L591.27 182.32L591.12 183.04L590.97 184.01L590.81 185.34L590.66 187.15L590.51 189.60L590.35 192.94L590.20 197.47L590.04 203.64L589.89 212.02L589.74 223.42L589.58 238.92L589.43 260.00L587.73 260.00ZM600.60 71.00L602.30 71.00L602.46 100.47L602.62 121.87L602.78 137.42L602.94 148.71L603.10 156.91L603.26 162.87L603.42 167.19L603.58 170.34L603.74 172.62L603.90 174.28L604.06 175.48L604.22 176.35L604.38 176.99L604.54 177.45L604.70 177.79L604.86 178.03L605.02 178.21L605.18 178.33L605.34 178.43L605.50 178.50L605.66 178.54L605.82 178.58L605.98 178.61L606.14 178.62L606.14 179.50L605.99 180.38L605.83 180.39L605.68 180.42L605.53 180.45L605.37 180.50L605.22 180.56L605.07 180.64L604.91 180.75L604.76 180.91L604.60 181.12L604.45 181.40L604.30 181.79L604.14 182.32L603.99 183.04L603.84 184.01L603.68 185.34L603.53 187.15L603.38 189.60L603.22 192.94L603.07 197.47L602.91 203.64L602.76 212.02L602.61 223.42L602.45 238.92L602.30 260.00L600.60 260.00ZM613.47 71.00L615.17 71.00L615.33 100.47L615.49 121.87L615.65 137.42L615.81 148.71L615.97 156.91L616.13 162.87L616.29 167.19L616.45 170.34L616.61 172.62L616.77 174.28L616.93 175.48L617.09 176.35L617.25 176.99L617.41 177.45L617.57 177.79L617.73 178.03L617.89 178.21L618.05 178.33L618.21 178.43L618.37 178.50L618.53 178.54L618.69 178.58L618.85 178.61L619.01 178.62L619.01 179.50L618.86 180.38L618.70 180.39L618.55 180.42L618.40 180.45L618.24 180.50L618.09 180.56L617.94 180.64L617.78 180.75L617.63 180.91L617.47 181.12L617.32 181.40L617.17 181.79L617.01 182.32L616.86 183.04L616.71 184.01L616.55 185.34L616.40 187.15L616.25 189.60L616.09 192.94L615.94 197.47L615.78 203.64L615.63 212.02L615.48 223.42L615.32 238.92L615.17 260.00L613.47 260.00ZM626.34 71.00L628.04 71.00L628.20 100.47L628.36 121.87L628.52 137.42L628.68 148.71L628.84 156.91L629.00 162.87L629.16 167.19L629.32 170.34L629.48 172.62L629.64 174.28L629.80 175.48L629.96 176.35L630.12 176.99L630.28 177.45L630.44 177.79L630.60 178.03L630.76 178.21L630.92 178.33L631.08 178.43L631.24 178.50L631.40 178.54L631.56 178.58L631.72 178.61L631.88 178.62L631.88 179.50L631.73 180.38L631.57 180.39L631.42 180.42L631.27 180.45L631.11 180.50L630.96 180.56L630.81 180.64L630.65 180.75L630.50 180.91L630.34 181.12L630.19 181.40L630.04 181.79L629.88 182.32L629.73 183.04L629.58 184.01L629.42 185.34L629.27 187.15L629.12 189.60L628.96 192.94L628.81 197.47L628.65 203.64L628.50 212.02L628.35 223.42L628.19 238.92L628.04 260.00L626.34 260.00ZM639.21 71.00L640.91 71.00L641.07 100.47L641.23 121.87L641.39 137.42L641.55 148.71L641.71 156.91L641.87 162.87L642.03 167.19L642.19 170.34L642.35 172.62L642.51 174.28L642.67 175.48L642.83 176.35L642.99 176.99L643.15 177.45L643.31 177.79L643.47 178.03L643.63 178.21L643.79 178.33L643.95 178.43L644.11 178.50L644.27 178.54L644.43 178.58L644.59 178.61L644.75 178.62L644.75 179.50L644.60 180.38L644.44 180.39L644.29 180.42L644.14 180.45L643.98 180.50L643.83 180.56L643.68 180.64L643.52 180.75L643.37 180.91L643.21 181.12L643.06 181.40L642.91 181.79L642.75 182.32L642.60 183.04L642.45 184.01L642.29 185.34L642.14 187.15L641.99 189.60L641.83 192.94L641.68 197.47L641.52 203.64L641.37 212.02L641.22 223.42L641.06 238.92L640.91 260.00L639.21 260.00ZM652.08 71.00L653.78 71.00L653.94 100.47L654.10 121.87L654.26 137.42L654.42 148.71L654.58 156.91L654.74 162.87L654.90 167.19L655.06 170.34L655.22 172.62L655.38 174.28L655.54 175.48L655.70 176.35L655.86 176.99L656.02 177.45L656.18 177.79L656.34 178.03L656.50 178.21L656.66 178.33L656.82 178.43L656.98 178.50L657.14 178.54L657.30 178.58L657.46 178.61L657.62 178.62L657.62 179.50L657.47 180.38L657.31 180.39L657.16 180.42L657.01 180.45L656.85 180.50L656.70 180.56L656.55 180.64L656.39 180.75L656.24 180.91L656.08 181.12L655.93 181.40L655.78 181.79L655.62 182.32L655.47 183.04L655.32 184.01L655.16 185.34L655.01 187.15L654.86 189.60L654.70 192.94L654.55 197.47L654.39 203.64L654.24 212.02L654.09 223.42L653.93 238.92L653.78 260.00L652.08 260.00ZM664.95 71.00L666.65 71.00L666.81 100.47L666.97 121.87L667.13 137.42L667.29 148.71L667.45 156.91L667.61 162.87L667.77 167.19L667.93 170.34L668.09 172.62L668.25 174.28L668.41 175.48L668.57 176.35L668.73 176.99L668.89 177.45L669.05 177.79L669.21 178.03L669.37 178.21L669.53 178.33L669.69 178.43L669.85 178.50L670.01 178.54L670.17 178.58L670.33 178.61L670.49 178.62L670.49 179.50L670.34 180.38L670.18 180.39L670.03 180.42L669.88 180.45L669.72 180.50L669.57 180.56L669.42 180.64L669.26 180.75L669.11 180.91L668.95 181.12L668.80 181.40L668.65 181.79L668.49 182.32L668.34 183.04L668.19 184.01L668.03 185.34L667.88 187.15L667.73 189.60L667.57 192.94L667.42 197.47L667.26 203.64L667.11 212.02L666.96 223.42L666.80 238.92L666.65 260.00L664.95 260.00ZM677.82 71.00L679.52 71.00L679.68 100.47L679.84 121.87L680.00 137.42L680.16 148.71L680.32 156.91L680.48 162.87L680.64 167.19L680.80 170.34L680.96 172.62L681.12 174.28L681.28 175.48L681.44 176.35L681.60 176.99L681.76 177.45L681.92 177.79L682.08 178.03L682.24 178.21L682.40 178.33L682.56 178.43L682.72 178.50L682.88 178.54L683.04 178.58L683.20 178.61L683.36 178.62L683.36 179.50L683.21 180.38L683.05 180.39L682.90 180.42L682.75 180.45L682.59 180.50L682.44 180.56L682.29 180.64L682.13 180.75L681.98 180.91L681.82 181.12L681.67 181.40L681.52 181.79L681.36 182.32L681.21 183.04L681.06 184.01L680.90 185.34L680.75 187.15L680.60 189.60L680.44 192.94L680.29 197.47L680.13 203.64L679.98 212.02L679.83 223.42L679.67 238.92L679.52 260.00L677.82 260.00ZM690.69 71.00L692.39 71.00L692.55 100.47L692.71 121.87L692.87 137.42L693.03 148.71L693.19 156.91L693.35 162.87L693.51 167.19L693.67 170.34L693.83 172.62L693.99 174.28L694.15 175.48L694.31 176.35L694.47 176.99L694.63 177.45L694.79 177.79L694.95 178.03L695.11 178.21L695.27 178.33L695.43 178.43L695.59 178.50L695.75 178.54L695.91 178.58L696.07 178.61L696.23 178.62L696.23 179.50L696.08 180.38L695.92 180.39L695.77 180.42L695.62 180.45L695.46 180.50L695.31 180.56L695.16 180.64L695.00 180.75L694.85 180.91L694.69 181.12L694.54 181.40L694.39 181.79L694.23 182.32L694.08 183.04L693.93 184.01L693.77 185.34L693.62 187.15L693.47 189.60L693.31 192.94L693.16 197.47L693.00 203.64L692.85 212.02L692.70 223.42L692.54 238.92L692.39 260.00L690.69 260.00ZM703.56 71.00L705.26 71.00L705.42 100.47L705.58 121.87L705.74 137.42L705.90 148.71L706.06 156.91L706.22 162.87L706.38 167.19L706.54 170.34L706.70 172.62L706.86 174.28L707.02 175.48L707.18 176.35L707.34 176.99L707.50 177.45L707.66 177.79L707.82 178.03L707.98 178.21L708.14 178.33L708.30 178.43L708.46 178.50L708.62 178.54L708.78 178.58L708.94 178.61L709.10 178.62L709.10 179.50L708.95 180.38L708.79 180.39L708.64 180.42L708.49 180.45L708.33 180.50L708.18 180.56L708.03 180.64L707.87 180.75L707.72 180.91L707.56 181.12L707.41 181.40L707.26 181.79L707.10 182.32L706.95 183.04L706.80 184.01L706.64 185.34L706.49 187.15L706.34 189.60L706.18 192.94L706.03 197.47L705.87 203.64L705.72 212.02L705.57 223.42L705.41 238.92L705.26 260.00L703.56 260.00ZM716.43 71.00L718.13 71.00L718.29 100.47L718.45 121.87L718.61 137.42L718.77 148.71L718.93 156.91L719.09 162.87L719.25 167.19L719.41 170.34L719.57 172.62L719.73 174.28L719.89 175.48L720.05 176.35L720.21 176.99L720.37 177.45L720.53 177.79L720.69 178.03L720.85 178.21L721.01 178.33L721.17 178.43L721.33 178.50L721.49 178.54L721.65 178.58L721.81 178.61L721.97 178.62L721.97 179.50L721.82 180.38L721.66 180.39L721.51 180.42L721.36 180.45L721.20 180.50L721.05 180.56L720.90 180.64L720.74 180.75L720.59 180.91L720.43 181.12L720.28 181.40L720.13 181.79L719.97 182.32L719.82 183.04L719.67 184.01L719.51 185.34L719.36 187.15L719.21 189.60L719.05 192.94L718.90 197.47L718.74 203.64L718.59 212.02L718.44 223.42L718.28 238.92L718.13 260.00L716.43 260.00Z" fill="#0000ff"/></g>
<g clip-path="url(#cpb)"><path d="M932.15 58.25L932.79 316.75L932.79 316.75L936.01 316.75L939.23 316.75L942.45 316.75L945.66 316.75L948.88 316.75L952.10 316.75L955.32 316.75L958.53 316.75L961.75 316.75L963.68 316.75L964.32 77.55L964.97 316.75L964.97 316.75L968.19 316.75L971.40 316.75L974.62 316.75L977.84 316.75L981.06 316.75L984.27 316.75L987.49 316.75L990.71 316.75L993.93 316.75L995.86 316.75L996.50 105.90L997.14 316.75L997.14 316.75L1000.36 316.75L1003.58 316.75L1006.80 316.75L1010.01 316.75L1013.23 316.75L1016.45 316.75L1019.67 316.75L1022.88 316.75L1026.10 316.75L1028.03 316.75L1028.68 131.25L1029.32 316.75L1029.32 316.75L1032.54 316.75L1035.75 316.75L1038.97 316.75L1042.19 316.75L1045.41 316.75L1048.62 316.75L1051.84 316.75L1055.06 316.75L1058.28 316.75L1060.21 316.75L1060.85 156.65L1061.49 316.75L1061.49 316.75L1064.71 316.75L1067.93 316.75L1071.15 316.75L1074.36 316.75L1077.58 316.75L1080.80 316.75L1084.02 316.75L1087.23 316.75L1090.45 316.75L1092.38 316.75L1093.03 178.15L1093.67 316.75L1093.67 316.75L1096.89 316.75L1100.10 316.75L1103.32 316.75L1106.54 316.75L1109.76 316.75L1112.97 316.75L1116.19 316.75L1119.41 316.75L1122.63 316.75L1124.56 316.75L1125.20 195.55L1125.84 316.75L1125.84 316.75L1129.06 316.75L1132.28 316.75L1135.50 316.75L1138.71 316.75L1141.93 316.75L1145.15 316.75L1148.37 316.75L1151.58 316.75L1154.80 316.75L1156.73 316.75L1157.38 209.65L1158.02 316.75L1158.02 316.75L1161.24 316.75L1164.45 316.75L1167.67 316.75L1170.89 316.75L1174.11 316.75L1177.32 316.75L1180.54 316.75L1183.76 316.75L1186.98 316.75L1188.91 316.75L1189.55 221.25L1190.19 316.75L1190.19 316.75L1193.41 316.75L1196.63 316.75L1199.85 316.75L1203.06 316.75L1206.28 316.75L1209.50 316.75L1212.72 316.75L1215.93 316.75L1219.15 316.75L1221.08 316.75L1221.73 231.05L1222.37 316.75L1222.37 316.75L1225.59 316.75L1228.80 316.75L1232.02 316.75L1235.24 316.75L1238.46 316.75L1241.67 316.75L1244.89 316.75L1248.11 316.75L1251.33 316.75L1253.26 316.75L1253.90 239.05L1254.54 316.75L1254.54 316.75L1257.76 316.75L1260.98 316.75L1264.20 316.75L1267.41 316.75L1270.63 316.75L1273.85 316.75L1277.07 316.75L1280.28 316.75L1283.50 316.75L1285.43 316.75L1286.08 245.65L1286.72 316.75L1286.72 316.75L1289.94 316.75L1293.15 316.75L1296.37 316.75L1299.59 316.75L1302.81 316.75L1306.02 316.75L1309.24 316.75L1312.46 316.75L1315.68 316.75L1317.61 316.75L1318.25 251.65L1318.89 316.75L1318.89 316.75L1322.11 316.75L1325.33 316.75L1328.55 316.75L1331.76 316.75L1334.98 316.75L1338.20 316.75L1341.42 316.75L1344.63 316.75L1347.85 316.75L1349.78 316.75L1350.43 256.55L1351.07 316.75L1351.07 316.75L1354.29 316.75L1357.50 316.75L1360.72 316.75L1363.94 316.75L1367.16 316.75L1370.37 316.75L1373.59 316.75L1376.81 316.75L1380.03 316.75L1381.96 316.75L1382.60 260.85L1383.24 316.75L1383.24 316.75L1386.46 316.75L1389.68 316.75L1392.90 316.75L1396.11 316.75L1399.33 316.75L1402.55 316.75L1405.77 316.75L1408.98 316.75L1412.20 316.75L1414.13 316.75L1414.78 264.75L1415.42 316.75L1415.42 316.75L1418.64 316.75L1421.85 316.75L1425.07 316.75L1428.29 316.75L1431.51 316.75L1434.72 316.75L1437.94 316.75L1441.16 316.75L1444.38 316.75L1446.31 316.75L1446.95 267.85L1447.59 316.75L1447.59 316.75L1450.81 316.75L1454.03 316.75L1457.25 316.75L1460.46 316.75L1463.68 316.75L1466.90 316.75L1470.12 316.75L1473.33 316.75L1476.55 316.75L1478.48 316.75L1479.12 270.65L1479.77 316.75L1479.77 316.75L1482.99 316.75L1486.20 316.75L1489.42 316.75L1492.64 316.75L1495.86 316.75L1499.07 316.75L1502.29 316.75L1505.51 316.75L1508.73 316.75L1510.66 316.75L1511.30 273.35L1511.94 316.75L1511.94 316.75L1515.16 316.75L1518.38 316.75L1521.60 316.75L1524.81 316.75L1528.03 316.75L1531.25 316.75L1534.47 316.75L1537.68 316.75L1540.90 316.75L1542.83 316.75L1543.47 275.35L1544.12 316.75L1544.12 316.75L1547.34 316.75L1550.55 316.75L1553.77 316.75L1556.99 316.75L1560.21 316.75L1563.42 316.75L1566.64 316.75L1569.86 316.75L1573.08 316.75L1575.01 316.75L1575.65 276.75" stroke="#0000ff" stroke-width="1.65" fill="none" stroke-linejoin="round"/></g>
<g clip-path="url(#cpc)"><path d="M86.5 560.5H730" stroke="#0000ff" stroke-width="1.65" fill="none"/>
<path d="M353.65 425.80L355.55 425.80L356.27 463.32L357.00 490.32L357.72 509.76L358.44 523.75L359.17 533.82L359.89 541.06L360.61 546.28L361.34 550.03L362.06 552.74L362.78 554.68L363.51 556.08L364.23 557.09L364.96 557.81L365.68 558.33L366.40 558.71L367.13 558.98L367.85 559.18L368.57 559.32L369.30 559.42L370.02 559.49L370.74 559.54L371.47 559.58L372.19 559.61L372.91 559.62L372.91 560.50L369.67 561.38L369.08 561.39L368.49 561.42L367.90 561.46L367.32 561.51L366.73 561.58L366.14 561.68L365.55 561.82L364.96 562.01L364.37 562.27L363.79 562.64L363.20 563.15L362.61 563.85L362.02 564.83L361.43 566.18L360.84 568.05L360.26 570.66L359.67 574.26L359.08 579.26L358.49 586.20L357.90 595.81L357.31 609.15L356.73 627.63L356.14 653.26L355.55 688.80L353.65 688.80Z" fill="#0000ff"/></g>
<g clip-path="url(#cpd)"><path d="M932.15 459.78L932.79 460.44L933.44 461.16L934.08 461.94L934.72 462.77L935.37 463.67L936.01 464.62L936.65 465.64L937.30 466.71L937.94 467.84L938.58 469.03L939.23 470.27L939.87 471.57L940.52 472.92L941.16 474.33L941.80 475.78L942.45 477.28L943.09 478.83L943.73 480.42L944.38 482.04L945.02 483.71L945.66 485.41L946.31 487.14L946.95 488.90L947.59 490.68L948.24 492.49L948.88 494.32L949.52 496.16L950.17 498.02L950.81 499.90L951.45 501.78L952.10 503.67L952.74 505.56L953.39 507.46L954.03 509.35L954.67 511.25L955.32 513.14L955.96 515.02L956.60 516.90L957.25 518.77L957.89 520.63L958.53 522.48L959.18 524.31L959.82 526.13L960.46 527.94L961.11 529.73L961.75 531.50L962.39 533.26L963.04 535.00L963.68 536.72L964.32 538.42L964.97 540.10L965.61 541.76L966.26 543.40L966.90 545.02L967.54 546.62L968.19 548.20L968.83 549.76L969.47 551.29L970.12 552.81L970.76 554.31L972.05 557.23L973.33 560.07L974.62 562.84L975.91 565.51L977.19 568.11L978.48 570.64L979.77 573.08L981.06 575.46L982.34 577.76L983.63 579.99L984.92 582.15L986.20 584.25L987.49 586.29L988.78 588.26L990.06 590.18L991.35 592.04L992.64 593.84L993.93 595.60L995.21 597.30L996.50 598.95L997.79 600.55L999.07 602.11L1000.36 603.63L1001.65 605.10L1002.93 606.53L1004.22 607.93L1005.51 609.28L1006.80 610.60L1008.08 611.88L1009.37 613.13L1010.66 614.35L1011.94 615.53L1013.23 616.69L1014.52 617.81L1015.80 618.91L1017.09 619.98L1018.38 621.02L1019.67 622.04L1020.95 623.03L1022.24 624.00L1023.53 624.95L1024.81 625.87L1026.10 626.77L1027.39 627.65L1028.68 628.51L1029.96 629.35L1031.25 630.18L1032.54 630.98L1033.82 631.77L1035.11 632.54L1036.40 633.29L1037.68 634.03L1038.97 634.75L1040.26 635.45L1041.55 636.14L1042.83 636.82L1044.12 637.48L1045.41 638.13L1046.69 638.77L1047.98 639.39L1049.27 640.00L1050.55 640.60L1051.84 641.19L1053.13 641.76L1054.42 642.33L1055.70 642.88L1056.99 643.43L1058.28 643.96L1059.56 644.49L1060.85 645.00L1066.00 646.97L1071.15 648.80L1076.29 650.51L1081.44 652.11L1086.59 653.61L1091.74 655.02L1096.89 656.34L1102.03 657.59L1107.18 658.77L1112.33 659.88L1117.48 660.94L1122.63 661.94L1127.77 662.89L1132.92 663.79L1138.07 664.65L1143.22 665.47L1148.37 666.25L1153.51 666.99L1158.66 667.70L1163.81 668.38L1168.96 669.04L1174.11 669.66L1179.25 670.26L1184.40 670.83L1189.55 671.39L1194.70 671.92L1199.85 672.43L1204.99 672.92L1210.14 673.39L1215.29 673.85L1220.44 674.29L1225.59 674.72L1230.73 675.13L1235.88 675.52L1241.03 675.91L1246.18 676.28L1251.33 676.64L1256.47 676.99L1261.62 677.32L1266.77 677.65L1271.92 677.97L1277.07 678.28L1282.21 678.57L1287.36 678.86L1292.51 679.14L1297.66 679.42L1302.81 679.68L1307.95 679.94L1313.10 680.19L1318.25 680.44L1323.40 680.68L1328.55 680.91L1333.69 681.14L1338.84 681.36L1343.99 681.57L1349.14 681.78L1354.29 681.98L1359.43 682.18L1364.58 682.38L1369.73 682.57L1374.88 682.75L1380.03 682.93L1385.17 683.11L1390.32 683.28L1395.47 683.45L1400.62 683.62L1405.77 683.78L1410.91 683.94L1416.06 684.09L1421.21 684.25L1426.36 684.39L1431.51 684.54L1436.65 684.68L1441.80 684.82L1446.95 684.96L1452.10 685.09L1457.25 685.22L1462.39 685.35L1467.54 685.48L1472.69 685.60L1477.84 685.72L1482.99 685.84L1488.13 685.96L1493.28 686.07L1498.43 686.18L1503.58 686.29L1508.73 686.40L1513.87 686.51L1519.02 686.61L1524.17 686.71L1529.32 686.82L1534.47 686.91L1539.61 687.01L1544.76 687.11L1549.91 687.20L1555.06 687.29L1560.21 687.38L1565.35 687.47L1570.50 687.56L1575.65 687.65" stroke="#ff0000" stroke-width="5.6" fill="none" stroke-linejoin="round" stroke-linecap="butt"/></g>
<g clip-path="url(#cpe)"><path d="M86.5 940.5H730" stroke="#0000ff" stroke-width="1.65" fill="none"/>
<path d="M85.80 928.90L87.50 928.90L87.61 931.06L87.72 932.79L87.84 934.17L87.95 935.27L88.06 936.16L88.17 936.86L88.28 937.43L88.40 937.88L88.51 938.24L88.62 938.53L88.73 938.76L88.84 938.94L88.96 939.09L89.07 939.21L89.18 939.30L89.29 939.38L89.40 939.44L89.51 939.48L89.63 939.52L89.74 939.55L89.85 939.58L89.96 939.60L90.07 939.61L90.19 939.62L90.19 940.50L90.01 941.38L89.91 941.39L89.80 941.40L89.70 941.42L89.59 941.44L89.49 941.47L89.38 941.50L89.28 941.54L89.17 941.59L89.07 941.65L88.96 941.73L88.86 941.82L88.76 941.94L88.65 942.08L88.55 942.26L88.44 942.48L88.34 942.75L88.23 943.08L88.13 943.48L88.02 943.99L87.92 944.61L87.81 945.37L87.71 946.31L87.60 947.47L87.50 948.90L85.80 948.90ZM98.67 928.90L100.37 928.90L100.48 931.06L100.59 932.79L100.71 934.17L100.82 935.27L100.93 936.16L101.04 936.86L101.15 937.43L101.27 937.88L101.38 938.24L101.49 938.53L101.60 938.76L101.71 938.94L101.83 939.09L101.94 939.21L102.05 939.30L102.16 939.38L102.27 939.44L102.38 939.48L102.50 939.52L102.61 939.55L102.72 939.58L102.83 939.60L102.94 939.61L103.06 939.62L103.06 940.50L102.88 941.38L102.78 941.39L102.67 941.40L102.57 941.42L102.46 941.44L102.36 941.47L102.25 941.50L102.15 941.54L102.04 941.59L101.94 941.65L101.83 941.73L101.73 941.82L101.63 941.94L101.52 942.08L101.42 942.26L101.31 942.48L101.21 942.75L101.10 943.08L101.00 943.48L100.89 943.99L100.79 944.61L100.68 945.37L100.58 946.31L100.47 947.47L100.37 948.90L98.67 948.90ZM111.54 928.90L113.24 928.90L113.35 931.06L113.46 932.79L113.58 934.17L113.69 935.27L113.80 936.16L113.91 936.86L114.02 937.43L114.14 937.88L114.25 938.24L114.36 938.53L114.47 938.76L114.58 938.94L114.70 939.09L114.81 939.21L114.92 939.30L115.03 939.38L115.14 939.44L115.25 939.48L115.37 939.52L115.48 939.55L115.59 939.58L115.70 939.60L115.81 939.61L115.93 939.62L115.93 940.50L115.75 941.38L115.65 941.39L115.54 941.40L115.44 941.42L115.33 941.44L115.23 941.47L115.12 941.50L115.02 941.54L114.91 941.59L114.81 941.65L114.70 941.73L114.60 941.82L114.50 941.94L114.39 942.08L114.29 942.26L114.18 942.48L114.08 942.75L113.97 943.08L113.87 943.48L113.76 943.99L113.66 944.61L113.55 945.37L113.45 946.31L113.34 947.47L113.24 948.90L111.54 948.90ZM124.41 928.90L126.11 928.90L126.22 931.06L126.33 932.79L126.45 934.17L126.56 935.27L126.67 936.16L126.78 936.86L126.89 937.43L127.01 937.88L127.12 938.24L127.23 938.53L127.34 938.76L127.45 938.94L127.57 939.09L127.68 939.21L127.79 939.30L127.90 939.38L128.01 939.44L128.12 939.48L128.24 939.52L128.35 939.55L128.46 939.58L128.57 939.60L128.68 939.61L128.80 939.62L128.80 940.50L128.62 941.38L128.52 941.39L128.41 941.40L128.31 941.42L128.20 941.44L128.10 941.47L127.99 941.50L127.89 941.54L127.78 941.59L127.68 941.65L127.57 941.73L127.47 941.82L127.37 941.94L127.26 942.08L127.16 942.26L127.05 942.48L126.95 942.75L126.84 943.08L126.74 943.48L126.63 943.99L126.53 944.61L126.42 945.37L126.32 946.31L126.21 947.47L126.11 948.90L124.41 948.90ZM137.28 928.90L138.98 928.90L139.09 931.06L139.20 932.79L139.32 934.17L139.43 935.27L139.54 936.16L139.65 936.86L139.76 937.43L139.88 937.88L139.99 938.24L140.10 938.53L140.21 938.76L140.32 938.94L140.44 939.09L140.55 939.21L140.66 939.30L140.77 939.38L140.88 939.44L140.99 939.48L141.11 939.52L141.22 939.55L141.33 939.58L141.44 939.60L141.55 939.61L141.67 939.62L141.67 940.50L141.49 941.38L141.39 941.39L141.28 941.40L141.18 941.42L141.07 941.44L140.97 941.47L140.86 941.50L140.76 941.54L140.65 941.59L140.55 941.65L140.44 941.73L140.34 941.82L140.24 941.94L140.13 942.08L140.03 942.26L139.92 942.48L139.82 942.75L139.71 943.08L139.61 943.48L139.50 943.99L139.40 944.61L139.29 945.37L139.19 946.31L139.08 947.47L138.98 948.90L137.28 948.90ZM150.15 928.90L151.85 928.90L151.96 931.06L152.07 932.79L152.19 934.17L152.30 935.27L152.41 936.16L152.52 936.86L152.63 937.43L152.75 937.88L152.86 938.24L152.97 938.53L153.08 938.76L153.19 938.94L153.31 939.09L153.42 939.21L153.53 939.30L153.64 939.38L153.75 939.44L153.86 939.48L153.98 939.52L154.09 939.55L154.20 939.58L154.31 939.60L154.42 939.61L154.54 939.62L154.54 940.50L154.36 941.38L154.26 941.39L154.15 941.40L154.05 941.42L153.94 941.44L153.84 941.47L153.73 941.50L153.63 941.54L153.52 941.59L153.42 941.65L153.31 941.73L153.21 941.82L153.11 941.94L153.00 942.08L152.90 942.26L152.79 942.48L152.69 942.75L152.58 943.08L152.48 943.48L152.37 943.99L152.27 944.61L152.16 945.37L152.06 946.31L151.95 947.47L151.85 948.90L150.15 948.90ZM163.02 928.90L164.72 928.90L164.83 931.06L164.94 932.79L165.06 934.17L165.17 935.27L165.28 936.16L165.39 936.86L165.50 937.43L165.62 937.88L165.73 938.24L165.84 938.53L165.95 938.76L166.06 938.94L166.18 939.09L166.29 939.21L166.40 939.30L166.51 939.38L166.62 939.44L166.73 939.48L166.85 939.52L166.96 939.55L167.07 939.58L167.18 939.60L167.29 939.61L167.41 939.62L167.41 940.50L167.23 941.38L167.13 941.39L167.02 941.40L166.92 941.42L166.81 941.44L166.71 941.47L166.60 941.50L166.50 941.54L166.39 941.59L166.29 941.65L166.18 941.73L166.08 941.82L165.98 941.94L165.87 942.08L165.77 942.26L165.66 942.48L165.56 942.75L165.45 943.08L165.35 943.48L165.24 943.99L165.14 944.61L165.03 945.37L164.93 946.31L164.82 947.47L164.72 948.90L163.02 948.90ZM175.89 928.90L177.59 928.90L177.70 931.06L177.81 932.79L177.93 934.17L178.04 935.27L178.15 936.16L178.26 936.86L178.37 937.43L178.49 937.88L178.60 938.24L178.71 938.53L178.82 938.76L178.93 938.94L179.05 939.09L179.16 939.21L179.27 939.30L179.38 939.38L179.49 939.44L179.60 939.48L179.72 939.52L179.83 939.55L179.94 939.58L180.05 939.60L180.16 939.61L180.28 939.62L180.28 940.50L180.10 941.38L180.00 941.39L179.89 941.40L179.79 941.42L179.68 941.44L179.58 941.47L179.47 941.50L179.37 941.54L179.26 941.59L179.16 941.65L179.05 941.73L178.95 941.82L178.85 941.94L178.74 942.08L178.64 942.26L178.53 942.48L178.43 942.75L178.32 943.08L178.22 943.48L178.11 943.99L178.01 944.61L177.90 945.37L177.80 946.31L177.69 947.47L177.59 948.90L175.89 948.90ZM188.76 928.90L190.46 928.90L190.57 931.06L190.68 932.79L190.80 934.17L190.91 935.27L191.02 936.16L191.13 936.86L191.24 937.43L191.36 937.88L191.47 938.24L191.58 938.53L191.69 938.76L191.80 938.94L191.92 939.09L192.03 939.21L192.14 939.30L192.25 939.38L192.36 939.44L192.47 939.48L192.59 939.52L192.70 939.55L192.81 939.58L192.92 939.60L193.03 939.61L193.15 939.62L193.15 940.50L192.97 941.38L192.87 941.39L192.76 941.40L192.66 941.42L192.55 941.44L192.45 941.47L192.34 941.50L192.24 941.54L192.13 941.59L192.03 941.65L191.92 941.73L191.82 941.82L191.72 941.94L191.61 942.08L191.51 942.26L191.40 942.48L191.30 942.75L191.19 943.08L191.09 943.48L190.98 943.99L190.88 944.61L190.77 945.37L190.67 946.31L190.56 947.47L190.46 948.90L188.76 948.90ZM201.63 928.90L203.33 928.90L203.44 931.06L203.55 932.79L203.67 934.17L203.78 935.27L203.89 936.16L204.00 936.86L204.11 937.43L204.23 937.88L204.34 938.24L204.45 938.53L204.56 938.76L204.67 938.94L204.79 939.09L204.90 939.21L205.01 939.30L205.12 939.38L205.23 939.44L205.34 939.48L205.46 939.52L205.57 939.55L205.68 939.58L205.79 939.60L205.90 939.61L206.02 939.62L206.02 940.50L205.84 941.38L205.74 941.39L205.63 941.40L205.53 941.42L205.42 941.44L205.32 941.47L205.21 941.50L205.11 941.54L205.00 941.59L204.90 941.65L204.79 941.73L204.69 941.82L204.59 941.94L204.48 942.08L204.38 942.26L204.27 942.48L204.17 942.75L204.06 943.08L203.96 943.48L203.85 943.99L203.75 944.61L203.64 945.37L203.54 946.31L203.43 947.47L203.33 948.90L201.63 948.90ZM214.50 928.90L216.20 928.90L216.31 931.06L216.42 932.79L216.54 934.17L216.65 935.27L216.76 936.16L216.87 936.86L216.98 937.43L217.10 937.88L217.21 938.24L217.32 938.53L217.43 938.76L217.54 938.94L217.66 939.09L217.77 939.21L217.88 939.30L217.99 939.38L218.10 939.44L218.21 939.48L218.33 939.52L218.44 939.55L218.55 939.58L218.66 939.60L218.77 939.61L218.89 939.62L218.89 940.50L218.71 941.38L218.61 941.39L218.50 941.40L218.40 941.42L218.29 941.44L218.19 941.47L218.08 941.50L217.98 941.54L217.87 941.59L217.77 941.65L217.66 941.73L217.56 941.82L217.46 941.94L217.35 942.08L217.25 942.26L217.14 942.48L217.04 942.75L216.93 943.08L216.83 943.48L216.72 943.99L216.62 944.61L216.51 945.37L216.41 946.31L216.30 947.47L216.20 948.90L214.50 948.90ZM227.37 928.90L229.07 928.90L229.18 931.06L229.29 932.79L229.41 934.17L229.52 935.27L229.63 936.16L229.74 936.86L229.85 937.43L229.97 937.88L230.08 938.24L230.19 938.53L230.30 938.76L230.41 938.94L230.53 939.09L230.64 939.21L230.75 939.30L230.86 939.38L230.97 939.44L231.08 939.48L231.20 939.52L231.31 939.55L231.42 939.58L231.53 939.60L231.64 939.61L231.76 939.62L231.76 940.50L231.58 941.38L231.48 941.39L231.37 941.40L231.27 941.42L231.16 941.44L231.06 941.47L230.95 941.50L230.85 941.54L230.74 941.59L230.64 941.65L230.53 941.73L230.43 941.82L230.33 941.94L230.22 942.08L230.12 942.26L230.01 942.48L229.91 942.75L229.80 943.08L229.70 943.48L229.59 943.99L229.49 944.61L229.38 945.37L229.28 946.31L229.17 947.47L229.07 948.90L227.37 948.90ZM240.24 928.90L241.94 928.90L242.05 931.06L242.16 932.79L242.28 934.17L242.39 935.27L242.50 936.16L242.61 936.86L242.72 937.43L242.84 937.88L242.95 938.24L243.06 938.53L243.17 938.76L243.28 938.94L243.40 939.09L243.51 939.21L243.62 939.30L243.73 939.38L243.84 939.44L243.95 939.48L244.07 939.52L244.18 939.55L244.29 939.58L244.40 939.60L244.51 939.61L244.63 939.62L244.63 940.50L244.45 941.38L244.35 941.39L244.24 941.40L244.14 941.42L244.03 941.44L243.93 941.47L243.82 941.50L243.72 941.54L243.61 941.59L243.51 941.65L243.40 941.73L243.30 941.82L243.20 941.94L243.09 942.08L242.99 942.26L242.88 942.48L242.78 942.75L242.67 943.08L242.57 943.48L242.46 943.99L242.36 944.61L242.25 945.37L242.15 946.31L242.04 947.47L241.94 948.90L240.24 948.90ZM253.11 928.90L254.81 928.90L254.92 931.06L255.03 932.79L255.15 934.17L255.26 935.27L255.37 936.16L255.48 936.86L255.59 937.43L255.71 937.88L255.82 938.24L255.93 938.53L256.04 938.76L256.15 938.94L256.27 939.09L256.38 939.21L256.49 939.30L256.60 939.38L256.71 939.44L256.82 939.48L256.94 939.52L257.05 939.55L257.16 939.58L257.27 939.60L257.38 939.61L257.50 939.62L257.50 940.50L257.32 941.38L257.22 941.39L257.11 941.40L257.01 941.42L256.90 941.44L256.80 941.47L256.69 941.50L256.59 941.54L256.48 941.59L256.38 941.65L256.27 941.73L256.17 941.82L256.07 941.94L255.96 942.08L255.86 942.26L255.75 942.48L255.65 942.75L255.54 943.08L255.44 943.48L255.33 943.99L255.23 944.61L255.12 945.37L255.02 946.31L254.91 947.47L254.81 948.90L253.11 948.90ZM265.98 928.90L267.68 928.90L267.79 931.06L267.90 932.79L268.02 934.17L268.13 935.27L268.24 936.16L268.35 936.86L268.46 937.43L268.58 937.88L268.69 938.24L268.80 938.53L268.91 938.76L269.02 938.94L269.14 939.09L269.25 939.21L269.36 939.30L269.47 939.38L269.58 939.44L269.69 939.48L269.81 939.52L269.92 939.55L270.03 939.58L270.14 939.60L270.25 939.61L270.37 939.62L270.37 940.50L270.19 941.38L270.09 941.39L269.98 941.40L269.88 941.42L269.77 941.44L269.67 941.47L269.56 941.50L269.46 941.54L269.35 941.59L269.25 941.65L269.14 941.73L269.04 941.82L268.94 941.94L268.83 942.08L268.73 942.26L268.62 942.48L268.52 942.75L268.41 943.08L268.31 943.48L268.20 943.99L268.10 944.61L267.99 945.37L267.89 946.31L267.78 947.47L267.68 948.90L265.98 948.90ZM278.85 928.90L280.55 928.90L280.66 931.06L280.77 932.79L280.89 934.17L281.00 935.27L281.11 936.16L281.22 936.86L281.33 937.43L281.45 937.88L281.56 938.24L281.67 938.53L281.78 938.76L281.89 938.94L282.01 939.09L282.12 939.21L282.23 939.30L282.34 939.38L282.45 939.44L282.56 939.48L282.68 939.52L282.79 939.55L282.90 939.58L283.01 939.60L283.12 939.61L283.24 939.62L283.24 940.50L283.06 941.38L282.96 941.39L282.85 941.40L282.75 941.42L282.64 941.44L282.54 941.47L282.43 941.50L282.33 941.54L282.22 941.59L282.12 941.65L282.01 941.73L281.91 941.82L281.81 941.94L281.70 942.08L281.60 942.26L281.49 942.48L281.39 942.75L281.28 943.08L281.18 943.48L281.07 943.99L280.97 944.61L280.86 945.37L280.76 946.31L280.65 947.47L280.55 948.90L278.85 948.90ZM291.72 928.90L293.42 928.90L293.53 931.06L293.64 932.79L293.76 934.17L293.87 935.27L293.98 936.16L294.09 936.86L294.20 937.43L294.32 937.88L294.43 938.24L294.54 938.53L294.65 938.76L294.76 938.94L294.88 939.09L294.99 939.21L295.10 939.30L295.21 939.38L295.32 939.44L295.43 939.48L295.55 939.52L295.66 939.55L295.77 939.58L295.88 939.60L295.99 939.61L296.11 939.62L296.11 940.50L295.93 941.38L295.83 941.39L295.72 941.40L295.62 941.42L295.51 941.44L295.41 941.47L295.30 941.50L295.20 941.54L295.09 941.59L294.99 941.65L294.88 941.73L294.78 941.82L294.68 941.94L294.57 942.08L294.47 942.26L294.36 942.48L294.26 942.75L294.15 943.08L294.05 943.48L293.94 943.99L293.84 944.61L293.73 945.37L293.63 946.31L293.52 947.47L293.42 948.90L291.72 948.90ZM304.59 928.90L306.29 928.90L306.40 931.06L306.51 932.79L306.63 934.17L306.74 935.27L306.85 936.16L306.96 936.86L307.07 937.43L307.19 937.88L307.30 938.24L307.41 938.53L307.52 938.76L307.63 938.94L307.75 939.09L307.86 939.21L307.97 939.30L308.08 939.38L308.19 939.44L308.30 939.48L308.42 939.52L308.53 939.55L308.64 939.58L308.75 939.60L308.86 939.61L308.98 939.62L308.98 940.50L308.80 941.38L308.70 941.39L308.59 941.40L308.49 941.42L308.38 941.44L308.28 941.47L308.17 941.50L308.07 941.54L307.96 941.59L307.86 941.65L307.75 941.73L307.65 941.82L307.55 941.94L307.44 942.08L307.34 942.26L307.23 942.48L307.13 942.75L307.02 943.08L306.92 943.48L306.81 943.99L306.71 944.61L306.60 945.37L306.50 946.31L306.39 947.47L306.29 948.90L304.59 948.90ZM317.46 928.90L319.16 928.90L319.27 931.06L319.38 932.79L319.50 934.17L319.61 935.27L319.72 936.16L319.83 936.86L319.94 937.43L320.06 937.88L320.17 938.24L320.28 938.53L320.39 938.76L320.50 938.94L320.62 939.09L320.73 939.21L320.84 939.30L320.95 939.38L321.06 939.44L321.17 939.48L321.29 939.52L321.40 939.55L321.51 939.58L321.62 939.60L321.73 939.61L321.85 939.62L321.85 940.50L321.67 941.38L321.57 941.39L321.46 941.40L321.36 941.42L321.25 941.44L321.15 941.47L321.04 941.50L320.94 941.54L320.83 941.59L320.73 941.65L320.62 941.73L320.52 941.82L320.42 941.94L320.31 942.08L320.21 942.26L320.10 942.48L320.00 942.75L319.89 943.08L319.79 943.48L319.68 943.99L319.58 944.61L319.47 945.37L319.37 946.31L319.26 947.47L319.16 948.90L317.46 948.90ZM330.33 928.90L332.03 928.90L332.14 931.06L332.25 932.79L332.37 934.17L332.48 935.27L332.59 936.16L332.70 936.86L332.81 937.43L332.93 937.88L333.04 938.24L333.15 938.53L333.26 938.76L333.37 938.94L333.49 939.09L333.60 939.21L333.71 939.30L333.82 939.38L333.93 939.44L334.04 939.48L334.16 939.52L334.27 939.55L334.38 939.58L334.49 939.60L334.60 939.61L334.72 939.62L334.72 940.50L334.54 941.38L334.44 941.39L334.33 941.40L334.23 941.42L334.12 941.44L334.02 941.47L333.91 941.50L333.81 941.54L333.70 941.59L333.60 941.65L333.49 941.73L333.39 941.82L333.29 941.94L333.18 942.08L333.08 942.26L332.97 942.48L332.87 942.75L332.76 943.08L332.66 943.48L332.55 943.99L332.45 944.61L332.34 945.37L332.24 946.31L332.13 947.47L332.03 948.90L330.33 948.90ZM343.20 928.90L344.90 928.90L345.01 931.06L345.12 932.79L345.24 934.17L345.35 935.27L345.46 936.16L345.57 936.86L345.68 937.43L345.80 937.88L345.91 938.24L346.02 938.53L346.13 938.76L346.24 938.94L346.36 939.09L346.47 939.21L346.58 939.30L346.69 939.38L346.80 939.44L346.91 939.48L347.03 939.52L347.14 939.55L347.25 939.58L347.36 939.60L347.47 939.61L347.59 939.62L347.59 940.50L347.41 941.38L347.31 941.39L347.20 941.40L347.10 941.42L346.99 941.44L346.89 941.47L346.78 941.50L346.68 941.54L346.57 941.59L346.47 941.65L346.36 941.73L346.26 941.82L346.16 941.94L346.05 942.08L345.95 942.26L345.84 942.48L345.74 942.75L345.63 943.08L345.53 943.48L345.42 943.99L345.32 944.61L345.21 945.37L345.11 946.31L345.00 947.47L344.90 948.90L343.20 948.90ZM368.94 928.90L370.64 928.90L370.75 931.06L370.86 932.79L370.98 934.17L371.09 935.27L371.20 936.16L371.31 936.86L371.42 937.43L371.54 937.88L371.65 938.24L371.76 938.53L371.87 938.76L371.98 938.94L372.10 939.09L372.21 939.21L372.32 939.30L372.43 939.38L372.54 939.44L372.65 939.48L372.77 939.52L372.88 939.55L372.99 939.58L373.10 939.60L373.21 939.61L373.33 939.62L373.33 940.50L373.15 941.38L373.05 941.39L372.94 941.40L372.84 941.42L372.73 941.44L372.63 941.47L372.52 941.50L372.42 941.54L372.31 941.59L372.21 941.65L372.10 941.73L372.00 941.82L371.90 941.94L371.79 942.08L371.69 942.26L371.58 942.48L371.48 942.75L371.37 943.08L371.27 943.48L371.16 943.99L371.06 944.61L370.95 945.37L370.85 946.31L370.74 947.47L370.64 948.90L368.94 948.90ZM381.81 928.90L383.51 928.90L383.62 931.06L383.73 932.79L383.85 934.17L383.96 935.27L384.07 936.16L384.18 936.86L384.29 937.43L384.41 937.88L384.52 938.24L384.63 938.53L384.74 938.76L384.85 938.94L384.97 939.09L385.08 939.21L385.19 939.30L385.30 939.38L385.41 939.44L385.52 939.48L385.64 939.52L385.75 939.55L385.86 939.58L385.97 939.60L386.08 939.61L386.20 939.62L386.20 940.50L386.02 941.38L385.92 941.39L385.81 941.40L385.71 941.42L385.60 941.44L385.50 941.47L385.39 941.50L385.29 941.54L385.18 941.59L385.08 941.65L384.97 941.73L384.87 941.82L384.77 941.94L384.66 942.08L384.56 942.26L384.45 942.48L384.35 942.75L384.24 943.08L384.14 943.48L384.03 943.99L383.93 944.61L383.82 945.37L383.72 946.31L383.61 947.47L383.51 948.90L381.81 948.90ZM394.68 928.90L396.38 928.90L396.49 931.06L396.60 932.79L396.72 934.17L396.83 935.27L396.94 936.16L397.05 936.86L397.16 937.43L397.28 937.88L397.39 938.24L397.50 938.53L397.61 938.76L397.72 938.94L397.84 939.09L397.95 939.21L398.06 939.30L398.17 939.38L398.28 939.44L398.39 939.48L398.51 939.52L398.62 939.55L398.73 939.58L398.84 939.60L398.95 939.61L399.07 939.62L399.07 940.50L398.89 941.38L398.79 941.39L398.68 941.40L398.58 941.42L398.47 941.44L398.37 941.47L398.26 941.50L398.16 941.54L398.05 941.59L397.95 941.65L397.84 941.73L397.74 941.82L397.64 941.94L397.53 942.08L397.43 942.26L397.32 942.48L397.22 942.75L397.11 943.08L397.01 943.48L396.90 943.99L396.80 944.61L396.69 945.37L396.59 946.31L396.48 947.47L396.38 948.90L394.68 948.90ZM407.55 928.90L409.25 928.90L409.36 931.06L409.47 932.79L409.59 934.17L409.70 935.27L409.81 936.16L409.92 936.86L410.03 937.43L410.15 937.88L410.26 938.24L410.37 938.53L410.48 938.76L410.59 938.94L410.71 939.09L410.82 939.21L410.93 939.30L411.04 939.38L411.15 939.44L411.26 939.48L411.38 939.52L411.49 939.55L411.60 939.58L411.71 939.60L411.82 939.61L411.94 939.62L411.94 940.50L411.76 941.38L411.66 941.39L411.55 941.40L411.45 941.42L411.34 941.44L411.24 941.47L411.13 941.50L411.03 941.54L410.92 941.59L410.82 941.65L410.71 941.73L410.61 941.82L410.51 941.94L410.40 942.08L410.30 942.26L410.19 942.48L410.09 942.75L409.98 943.08L409.88 943.48L409.77 943.99L409.67 944.61L409.56 945.37L409.46 946.31L409.35 947.47L409.25 948.90L407.55 948.90ZM420.42 928.90L422.12 928.90L422.23 931.06L422.34 932.79L422.46 934.17L422.57 935.27L422.68 936.16L422.79 936.86L422.90 937.43L423.02 937.88L423.13 938.24L423.24 938.53L423.35 938.76L423.46 938.94L423.58 939.09L423.69 939.21L423.80 939.30L423.91 939.38L424.02 939.44L424.13 939.48L424.25 939.52L424.36 939.55L424.47 939.58L424.58 939.60L424.69 939.61L424.81 939.62L424.81 940.50L424.63 941.38L424.53 941.39L424.42 941.40L424.32 941.42L424.21 941.44L424.11 941.47L424.00 941.50L423.90 941.54L423.79 941.59L423.69 941.65L423.58 941.73L423.48 941.82L423.38 941.94L423.27 942.08L423.17 942.26L423.06 942.48L422.96 942.75L422.85 943.08L422.75 943.48L422.64 943.99L422.54 944.61L422.43 945.37L422.33 946.31L422.22 947.47L422.12 948.90L420.42 948.90ZM433.29 928.90L434.99 928.90L435.10 931.06L435.21 932.79L435.33 934.17L435.44 935.27L435.55 936.16L435.66 936.86L435.77 937.43L435.89 937.88L436.00 938.24L436.11 938.53L436.22 938.76L436.33 938.94L436.45 939.09L436.56 939.21L436.67 939.30L436.78 939.38L436.89 939.44L437.00 939.48L437.12 939.52L437.23 939.55L437.34 939.58L437.45 939.60L437.56 939.61L437.68 939.62L437.68 940.50L437.50 941.38L437.40 941.39L437.29 941.40L437.19 941.42L437.08 941.44L436.98 941.47L436.87 941.50L436.77 941.54L436.66 941.59L436.56 941.65L436.45 941.73L436.35 941.82L436.25 941.94L436.14 942.08L436.04 942.26L435.93 942.48L435.83 942.75L435.72 943.08L435.62 943.48L435.51 943.99L435.41 944.61L435.30 945.37L435.20 946.31L435.09 947.47L434.99 948.90L433.29 948.90ZM446.16 928.90L447.86 928.90L447.97 931.06L448.08 932.79L448.20 934.17L448.31 935.27L448.42 936.16L448.53 936.86L448.64 937.43L448.76 937.88L448.87 938.24L448.98 938.53L449.09 938.76L449.20 938.94L449.32 939.09L449.43 939.21L449.54 939.30L449.65 939.38L449.76 939.44L449.87 939.48L449.99 939.52L450.10 939.55L450.21 939.58L450.32 939.60L450.43 939.61L450.55 939.62L450.55 940.50L450.37 941.38L450.27 941.39L450.16 941.40L450.06 941.42L449.95 941.44L449.85 941.47L449.74 941.50L449.64 941.54L449.53 941.59L449.43 941.65L449.32 941.73L449.22 941.82L449.12 941.94L449.01 942.08L448.91 942.26L448.80 942.48L448.70 942.75L448.59 943.08L448.49 943.48L448.38 943.99L448.28 944.61L448.17 945.37L448.07 946.31L447.96 947.47L447.86 948.90L446.16 948.90ZM459.03 928.90L460.73 928.90L460.84 931.06L460.95 932.79L461.07 934.17L461.18 935.27L461.29 936.16L461.40 936.86L461.51 937.43L461.63 937.88L461.74 938.24L461.85 938.53L461.96 938.76L462.07 938.94L462.19 939.09L462.30 939.21L462.41 939.30L462.52 939.38L462.63 939.44L462.74 939.48L462.86 939.52L462.97 939.55L463.08 939.58L463.19 939.60L463.30 939.61L463.42 939.62L463.42 940.50L463.24 941.38L463.14 941.39L463.03 941.40L462.93 941.42L462.82 941.44L462.72 941.47L462.61 941.50L462.51 941.54L462.40 941.59L462.30 941.65L462.19 941.73L462.09 941.82L461.99 941.94L461.88 942.08L461.78 942.26L461.67 942.48L461.57 942.75L461.46 943.08L461.36 943.48L461.25 943.99L461.15 944.61L461.04 945.37L460.94 946.31L460.83 947.47L460.73 948.90L459.03 948.90ZM471.90 928.90L473.60 928.90L473.71 931.06L473.82 932.79L473.94 934.17L474.05 935.27L474.16 936.16L474.27 936.86L474.38 937.43L474.50 937.88L474.61 938.24L474.72 938.53L474.83 938.76L474.94 938.94L475.06 939.09L475.17 939.21L475.28 939.30L475.39 939.38L475.50 939.44L475.61 939.48L475.73 939.52L475.84 939.55L475.95 939.58L476.06 939.60L476.17 939.61L476.29 939.62L476.29 940.50L476.11 941.38L476.01 941.39L475.90 941.40L475.80 941.42L475.69 941.44L475.59 941.47L475.48 941.50L475.38 941.54L475.27 941.59L475.17 941.65L475.06 941.73L474.96 941.82L474.86 941.94L474.75 942.08L474.65 942.26L474.54 942.48L474.44 942.75L474.33 943.08L474.23 943.48L474.12 943.99L474.02 944.61L473.91 945.37L473.81 946.31L473.70 947.47L473.60 948.90L471.90 948.90ZM484.77 928.90L486.47 928.90L486.58 931.06L486.69 932.79L486.81 934.17L486.92 935.27L487.03 936.16L487.14 936.86L487.25 937.43L487.37 937.88L487.48 938.24L487.59 938.53L487.70 938.76L487.81 938.94L487.93 939.09L488.04 939.21L488.15 939.30L488.26 939.38L488.37 939.44L488.48 939.48L488.60 939.52L488.71 939.55L488.82 939.58L488.93 939.60L489.04 939.61L489.16 939.62L489.16 940.50L488.98 941.38L488.88 941.39L488.77 941.40L488.67 941.42L488.56 941.44L488.46 941.47L488.35 941.50L488.25 941.54L488.14 941.59L488.04 941.65L487.93 941.73L487.83 941.82L487.73 941.94L487.62 942.08L487.52 942.26L487.41 942.48L487.31 942.75L487.20 943.08L487.10 943.48L486.99 943.99L486.89 944.61L486.78 945.37L486.68 946.31L486.57 947.47L486.47 948.90L484.77 948.90ZM497.64 928.90L499.34 928.90L499.45 931.06L499.56 932.79L499.68 934.17L499.79 935.27L499.90 936.16L500.01 936.86L500.12 937.43L500.24 937.88L500.35 938.24L500.46 938.53L500.57 938.76L500.68 938.94L500.80 939.09L500.91 939.21L501.02 939.30L501.13 939.38L501.24 939.44L501.35 939.48L501.47 939.52L501.58 939.55L501.69 939.58L501.80 939.60L501.91 939.61L502.03 939.62L502.03 940.50L501.85 941.38L501.75 941.39L501.64 941.40L501.54 941.42L501.43 941.44L501.33 941.47L501.22 941.50L501.12 941.54L501.01 941.59L500.91 941.65L500.80 941.73L500.70 941.82L500.60 941.94L500.49 942.08L500.39 942.26L500.28 942.48L500.18 942.75L500.07 943.08L499.97 943.48L499.86 943.99L499.76 944.61L499.65 945.37L499.55 946.31L499.44 947.47L499.34 948.90L497.64 948.90ZM510.51 928.90L512.21 928.90L512.32 931.06L512.43 932.79L512.55 934.17L512.66 935.27L512.77 936.16L512.88 936.86L512.99 937.43L513.11 937.88L513.22 938.24L513.33 938.53L513.44 938.76L513.55 938.94L513.67 939.09L513.78 939.21L513.89 939.30L514.00 939.38L514.11 939.44L514.22 939.48L514.34 939.52L514.45 939.55L514.56 939.58L514.67 939.60L514.78 939.61L514.90 939.62L514.90 940.50L514.72 941.38L514.62 941.39L514.51 941.40L514.41 941.42L514.30 941.44L514.20 941.47L514.09 941.50L513.99 941.54L513.88 941.59L513.78 941.65L513.67 941.73L513.57 941.82L513.47 941.94L513.36 942.08L513.26 942.26L513.15 942.48L513.05 942.75L512.94 943.08L512.84 943.48L512.73 943.99L512.63 944.61L512.52 945.37L512.42 946.31L512.31 947.47L512.21 948.90L510.51 948.90ZM523.38 928.90L525.08 928.90L525.19 931.06L525.30 932.79L525.42 934.17L525.53 935.27L525.64 936.16L525.75 936.86L525.86 937.43L525.98 937.88L526.09 938.24L526.20 938.53L526.31 938.76L526.42 938.94L526.54 939.09L526.65 939.21L526.76 939.30L526.87 939.38L526.98 939.44L527.09 939.48L527.21 939.52L527.32 939.55L527.43 939.58L527.54 939.60L527.65 939.61L527.77 939.62L527.77 940.50L527.59 941.38L527.49 941.39L527.38 941.40L527.28 941.42L527.17 941.44L527.07 941.47L526.96 941.50L526.86 941.54L526.75 941.59L526.65 941.65L526.54 941.73L526.44 941.82L526.34 941.94L526.23 942.08L526.13 942.26L526.02 942.48L525.92 942.75L525.81 943.08L525.71 943.48L525.60 943.99L525.50 944.61L525.39 945.37L525.29 946.31L525.18 947.47L525.08 948.90L523.38 948.90ZM536.25 928.90L537.95 928.90L538.06 931.06L538.17 932.79L538.29 934.17L538.40 935.27L538.51 936.16L538.62 936.86L538.73 937.43L538.85 937.88L538.96 938.24L539.07 938.53L539.18 938.76L539.29 938.94L539.41 939.09L539.52 939.21L539.63 939.30L539.74 939.38L539.85 939.44L539.96 939.48L540.08 939.52L540.19 939.55L540.30 939.58L540.41 939.60L540.52 939.61L540.64 939.62L540.64 940.50L540.46 941.38L540.36 941.39L540.25 941.40L540.15 941.42L540.04 941.44L539.94 941.47L539.83 941.50L539.73 941.54L539.62 941.59L539.52 941.65L539.41 941.73L539.31 941.82L539.21 941.94L539.10 942.08L539.00 942.26L538.89 942.48L538.79 942.75L538.68 943.08L538.58 943.48L538.47 943.99L538.37 944.61L538.26 945.37L538.16 946.31L538.05 947.47L537.95 948.90L536.25 948.90ZM549.12 928.90L550.82 928.90L550.93 931.06L551.04 932.79L551.16 934.17L551.27 935.27L551.38 936.16L551.49 936.86L551.60 937.43L551.72 937.88L551.83 938.24L551.94 938.53L552.05 938.76L552.16 938.94L552.28 939.09L552.39 939.21L552.50 939.30L552.61 939.38L552.72 939.44L552.83 939.48L552.95 939.52L553.06 939.55L553.17 939.58L553.28 939.60L553.39 939.61L553.51 939.62L553.51 940.50L553.33 941.38L553.23 941.39L553.12 941.40L553.02 941.42L552.91 941.44L552.81 941.47L552.70 941.50L552.60 941.54L552.49 941.59L552.39 941.65L552.28 941.73L552.18 941.82L552.08 941.94L551.97 942.08L551.87 942.26L551.76 942.48L551.66 942.75L551.55 943.08L551.45 943.48L551.34 943.99L551.24 944.61L551.13 945.37L551.03 946.31L550.92 947.47L550.82 948.90L549.12 948.90ZM561.99 928.90L563.69 928.90L563.80 931.06L563.91 932.79L564.03 934.17L564.14 935.27L564.25 936.16L564.36 936.86L564.47 937.43L564.59 937.88L564.70 938.24L564.81 938.53L564.92 938.76L565.03 938.94L565.15 939.09L565.26 939.21L565.37 939.30L565.48 939.38L565.59 939.44L565.70 939.48L565.82 939.52L565.93 939.55L566.04 939.58L566.15 939.60L566.26 939.61L566.38 939.62L566.38 940.50L566.20 941.38L566.10 941.39L565.99 941.40L565.89 941.42L565.78 941.44L565.68 941.47L565.57 941.50L565.47 941.54L565.36 941.59L565.26 941.65L565.15 941.73L565.05 941.82L564.95 941.94L564.84 942.08L564.74 942.26L564.63 942.48L564.53 942.75L564.42 943.08L564.32 943.48L564.21 943.99L564.11 944.61L564.00 945.37L563.90 946.31L563.79 947.47L563.69 948.90L561.99 948.90ZM574.86 928.90L576.56 928.90L576.67 931.06L576.78 932.79L576.90 934.17L577.01 935.27L577.12 936.16L577.23 936.86L577.34 937.43L577.46 937.88L577.57 938.24L577.68 938.53L577.79 938.76L577.90 938.94L578.02 939.09L578.13 939.21L578.24 939.30L578.35 939.38L578.46 939.44L578.57 939.48L578.69 939.52L578.80 939.55L578.91 939.58L579.02 939.60L579.13 939.61L579.25 939.62L579.25 940.50L579.07 941.38L578.97 941.39L578.86 941.40L578.76 941.42L578.65 941.44L578.55 941.47L578.44 941.50L578.34 941.54L578.23 941.59L578.13 941.65L578.02 941.73L577.92 941.82L577.82 941.94L577.71 942.08L577.61 942.26L577.50 942.48L577.40 942.75L577.29 943.08L577.19 943.48L577.08 943.99L576.98 944.61L576.87 945.37L576.77 946.31L576.66 947.47L576.56 948.90L574.86 948.90ZM587.73 928.90L589.43 928.90L589.54 931.06L589.65 932.79L589.77 934.17L589.88 935.27L589.99 936.16L590.10 936.86L590.21 937.43L590.33 937.88L590.44 938.24L590.55 938.53L590.66 938.76L590.77 938.94L590.89 939.09L591.00 939.21L591.11 939.30L591.22 939.38L591.33 939.44L591.44 939.48L591.56 939.52L591.67 939.55L591.78 939.58L591.89 939.60L592.00 939.61L592.12 939.62L592.12 940.50L591.94 941.38L591.84 941.39L591.73 941.40L591.63 941.42L591.52 941.44L591.42 941.47L591.31 941.50L591.21 941.54L591.10 941.59L591.00 941.65L590.89 941.73L590.79 941.82L590.69 941.94L590.58 942.08L590.48 942.26L590.37 942.48L590.27 942.75L590.16 943.08L590.06 943.48L589.95 943.99L589.85 944.61L589.74 945.37L589.64 946.31L589.53 947.47L589.43 948.90L587.73 948.90ZM600.60 928.90L602.30 928.90L602.41 931.06L602.52 932.79L602.64 934.17L602.75 935.27L602.86 936.16L602.97 936.86L603.08 937.43L603.20 937.88L603.31 938.24L603.42 938.53L603.53 938.76L603.64 938.94L603.76 939.09L603.87 939.21L603.98 939.30L604.09 939.38L604.20 939.44L604.31 939.48L604.43 939.52L604.54 939.55L604.65 939.58L604.76 939.60L604.87 939.61L604.99 939.62L604.99 940.50L604.81 941.38L604.71 941.39L604.60 941.40L604.50 941.42L604.39 941.44L604.29 941.47L604.18 941.50L604.08 941.54L603.97 941.59L603.87 941.65L603.76 941.73L603.66 941.82L603.56 941.94L603.45 942.08L603.35 942.26L603.24 942.48L603.14 942.75L603.03 943.08L602.93 943.48L602.82 943.99L602.72 944.61L602.61 945.37L602.51 946.31L602.40 947.47L602.30 948.90L600.60 948.90ZM613.47 928.90L615.17 928.90L615.28 931.06L615.39 932.79L615.51 934.17L615.62 935.27L615.73 936.16L615.84 936.86L615.95 937.43L616.07 937.88L616.18 938.24L616.29 938.53L616.40 938.76L616.51 938.94L616.63 939.09L616.74 939.21L616.85 939.30L616.96 939.38L617.07 939.44L617.18 939.48L617.30 939.52L617.41 939.55L617.52 939.58L617.63 939.60L617.74 939.61L617.86 939.62L617.86 940.50L617.68 941.38L617.58 941.39L617.47 941.40L617.37 941.42L617.26 941.44L617.16 941.47L617.05 941.50L616.95 941.54L616.84 941.59L616.74 941.65L616.63 941.73L616.53 941.82L616.43 941.94L616.32 942.08L616.22 942.26L616.11 942.48L616.01 942.75L615.90 943.08L615.80 943.48L615.69 943.99L615.59 944.61L615.48 945.37L615.38 946.31L615.27 947.47L615.17 948.90L613.47 948.90ZM626.34 928.90L628.04 928.90L628.15 931.06L628.26 932.79L628.38 934.17L628.49 935.27L628.60 936.16L628.71 936.86L628.82 937.43L628.94 937.88L629.05 938.24L629.16 938.53L629.27 938.76L629.38 938.94L629.50 939.09L629.61 939.21L629.72 939.30L629.83 939.38L629.94 939.44L630.05 939.48L630.17 939.52L630.28 939.55L630.39 939.58L630.50 939.60L630.61 939.61L630.73 939.62L630.73 940.50L630.55 941.38L630.45 941.39L630.34 941.40L630.24 941.42L630.13 941.44L630.03 941.47L629.92 941.50L629.82 941.54L629.71 941.59L629.61 941.65L629.50 941.73L629.40 941.82L629.30 941.94L629.19 942.08L629.09 942.26L628.98 942.48L628.88 942.75L628.77 943.08L628.67 943.48L628.56 943.99L628.46 944.61L628.35 945.37L628.25 946.31L628.14 947.47L628.04 948.90L626.34 948.90ZM639.21 928.90L640.91 928.90L641.02 931.06L641.13 932.79L641.25 934.17L641.36 935.27L641.47 936.16L641.58 936.86L641.69 937.43L641.81 937.88L641.92 938.24L642.03 938.53L642.14 938.76L642.25 938.94L642.37 939.09L642.48 939.21L642.59 939.30L642.70 939.38L642.81 939.44L642.92 939.48L643.04 939.52L643.15 939.55L643.26 939.58L643.37 939.60L643.48 939.61L643.60 939.62L643.60 940.50L643.42 941.38L643.32 941.39L643.21 941.40L643.11 941.42L643.00 941.44L642.90 941.47L642.79 941.50L642.69 941.54L642.58 941.59L642.48 941.65L642.37 941.73L642.27 941.82L642.17 941.94L642.06 942.08L641.96 942.26L641.85 942.48L641.75 942.75L641.64 943.08L641.54 943.48L641.43 943.99L641.33 944.61L641.22 945.37L641.12 946.31L641.01 947.47L640.91 948.90L639.21 948.90ZM652.08 928.90L653.78 928.90L653.89 931.06L654.00 932.79L654.12 934.17L654.23 935.27L654.34 936.16L654.45 936.86L654.56 937.43L654.68 937.88L654.79 938.24L654.90 938.53L655.01 938.76L655.12 938.94L655.24 939.09L655.35 939.21L655.46 939.30L655.57 939.38L655.68 939.44L655.79 939.48L655.91 939.52L656.02 939.55L656.13 939.58L656.24 939.60L656.35 939.61L656.47 939.62L656.47 940.50L656.29 941.38L656.19 941.39L656.08 941.40L655.98 941.42L655.87 941.44L655.77 941.47L655.66 941.50L655.56 941.54L655.45 941.59L655.35 941.65L655.24 941.73L655.14 941.82L655.04 941.94L654.93 942.08L654.83 942.26L654.72 942.48L654.62 942.75L654.51 943.08L654.41 943.48L654.30 943.99L654.20 944.61L654.09 945.37L653.99 946.31L653.88 947.47L653.78 948.90L652.08 948.90ZM664.95 928.90L666.65 928.90L666.76 931.06L666.87 932.79L666.99 934.17L667.10 935.27L667.21 936.16L667.32 936.86L667.43 937.43L667.55 937.88L667.66 938.24L667.77 938.53L667.88 938.76L667.99 938.94L668.11 939.09L668.22 939.21L668.33 939.30L668.44 939.38L668.55 939.44L668.66 939.48L668.78 939.52L668.89 939.55L669.00 939.58L669.11 939.60L669.22 939.61L669.34 939.62L669.34 940.50L669.16 941.38L669.06 941.39L668.95 941.40L668.85 941.42L668.74 941.44L668.64 941.47L668.53 941.50L668.43 941.54L668.32 941.59L668.22 941.65L668.11 941.73L668.01 941.82L667.91 941.94L667.80 942.08L667.70 942.26L667.59 942.48L667.49 942.75L667.38 943.08L667.28 943.48L667.17 943.99L667.07 944.61L666.96 945.37L666.86 946.31L666.75 947.47L666.65 948.90L664.95 948.90ZM677.82 928.90L679.52 928.90L679.63 931.06L679.74 932.79L679.86 934.17L679.97 935.27L680.08 936.16L680.19 936.86L680.30 937.43L680.42 937.88L680.53 938.24L680.64 938.53L680.75 938.76L680.86 938.94L680.98 939.09L681.09 939.21L681.20 939.30L681.31 939.38L681.42 939.44L681.53 939.48L681.65 939.52L681.76 939.55L681.87 939.58L681.98 939.60L682.09 939.61L682.21 939.62L682.21 940.50L682.03 941.38L681.93 941.39L681.82 941.40L681.72 941.42L681.61 941.44L681.51 941.47L681.40 941.50L681.30 941.54L681.19 941.59L681.09 941.65L680.98 941.73L680.88 941.82L680.78 941.94L680.67 942.08L680.57 942.26L680.46 942.48L680.36 942.75L680.25 943.08L680.15 943.48L680.04 943.99L679.94 944.61L679.83 945.37L679.73 946.31L679.62 947.47L679.52 948.90L677.82 948.90ZM690.69 928.90L692.39 928.90L692.50 931.06L692.61 932.79L692.73 934.17L692.84 935.27L692.95 936.16L693.06 936.86L693.17 937.43L693.29 937.88L693.40 938.24L693.51 938.53L693.62 938.76L693.73 938.94L693.85 939.09L693.96 939.21L694.07 939.30L694.18 939.38L694.29 939.44L694.40 939.48L694.52 939.52L694.63 939.55L694.74 939.58L694.85 939.60L694.96 939.61L695.08 939.62L695.08 940.50L694.90 941.38L694.80 941.39L694.69 941.40L694.59 941.42L694.48 941.44L694.38 941.47L694.27 941.50L694.17 941.54L694.06 941.59L693.96 941.65L693.85 941.73L693.75 941.82L693.65 941.94L693.54 942.08L693.44 942.26L693.33 942.48L693.23 942.75L693.12 943.08L693.02 943.48L692.91 943.99L692.81 944.61L692.70 945.37L692.60 946.31L692.49 947.47L692.39 948.90L690.69 948.90ZM703.56 928.90L705.26 928.90L705.37 931.06L705.48 932.79L705.60 934.17L705.71 935.27L705.82 936.16L705.93 936.86L706.04 937.43L706.16 937.88L706.27 938.24L706.38 938.53L706.49 938.76L706.60 938.94L706.72 939.09L706.83 939.21L706.94 939.30L707.05 939.38L707.16 939.44L707.27 939.48L707.39 939.52L707.50 939.55L707.61 939.58L707.72 939.60L707.83 939.61L707.95 939.62L707.95 940.50L707.77 941.38L707.67 941.39L707.56 941.40L707.46 941.42L707.35 941.44L707.25 941.47L707.14 941.50L707.04 941.54L706.93 941.59L706.83 941.65L706.72 941.73L706.62 941.82L706.52 941.94L706.41 942.08L706.31 942.26L706.20 942.48L706.10 942.75L705.99 943.08L705.89 943.48L705.78 943.99L705.68 944.61L705.57 945.37L705.47 946.31L705.36 947.47L705.26 948.90L703.56 948.90ZM716.43 928.90L718.13 928.90L718.24 931.06L718.35 932.79L718.47 934.17L718.58 935.27L718.69 936.16L718.80 936.86L718.91 937.43L719.03 937.88L719.14 938.24L719.25 938.53L719.36 938.76L719.47 938.94L719.59 939.09L719.70 939.21L719.81 939.30L719.92 939.38L720.03 939.44L720.14 939.48L720.26 939.52L720.37 939.55L720.48 939.58L720.59 939.60L720.70 939.61L720.82 939.62L720.82 940.50L720.64 941.38L720.54 941.39L720.43 941.40L720.33 941.42L720.22 941.44L720.12 941.47L720.01 941.50L719.91 941.54L719.80 941.59L719.70 941.65L719.59 941.73L719.49 941.82L719.39 941.94L719.28 942.08L719.18 942.26L719.07 942.48L718.97 942.75L718.86 943.08L718.76 943.48L718.65 943.99L718.55 944.61L718.44 945.37L718.34 946.31L718.23 947.47L718.13 948.90L716.43 948.90Z" fill="#0000ff"/>
<path d="M353.65 806.60L355.55 806.60L356.27 843.87L357.00 870.70L357.72 890.02L358.44 903.93L359.16 913.94L359.89 921.15L360.61 926.34L361.33 930.07L362.06 932.76L362.78 934.70L363.50 936.09L364.23 937.10L364.95 937.82L365.67 938.34L366.39 938.71L367.12 938.98L367.84 939.18L368.56 939.32L369.29 939.42L370.01 939.49L370.73 939.54L371.45 939.58L372.18 939.61L372.90 939.62L372.90 940.50L369.66 941.38L369.07 941.39L368.48 941.42L367.89 941.46L367.31 941.51L366.72 941.58L366.13 941.68L365.54 941.82L364.95 942.01L364.37 942.27L363.78 942.63L363.19 943.14L362.60 943.84L362.02 944.81L361.43 946.16L360.84 948.03L360.25 950.62L359.66 954.21L359.08 959.18L358.49 966.08L357.90 975.63L357.31 988.88L356.73 1007.25L356.14 1032.71L355.55 1068.00L353.65 1068.00Z" fill="#0000ff"/></g>
<g clip-path="url(#cpf)"><path d="M932.15 935.35L932.79 951.49L932.15 951.11L935.37 953.32L938.59 956.31L941.81 960.02L945.03 964.33L948.25 969.04L951.47 973.99L954.70 979.01L957.92 983.95L961.14 988.73L963.07 991.49L963.71 843.55L964.36 993.28L964.36 993.28L967.58 997.57L970.80 1001.58L974.02 1005.32L977.24 1008.79L980.46 1012.00L983.68 1014.98L986.90 1017.74L990.12 1020.29L993.34 1022.67L995.28 1024.01L995.92 922.45L996.56 1024.87L996.56 1024.87L999.79 1026.92L1003.01 1028.83L1006.23 1030.61L1009.45 1032.27L1012.67 1033.83L1015.89 1035.29L1019.11 1036.67L1022.33 1037.96L1025.55 1039.17L1027.48 1039.87L1028.13 982.75L1028.77 1040.32L1028.77 1040.32L1031.99 1041.40L1035.21 1042.42L1038.43 1043.39L1041.65 1044.31L1044.88 1045.18L1048.10 1046.01L1051.32 1046.80L1054.54 1047.55L1057.76 1048.27L1059.69 1048.69L1060.33 996.55L1060.98 1048.96L1060.98 1048.96L1064.20 1049.61L1067.42 1050.23L1070.64 1050.83L1073.86 1051.41L1077.08 1051.95L1080.30 1052.48L1083.52 1052.99L1086.74 1053.47L1089.97 1053.94L1091.90 1054.21L1092.54 983.55L1093.19 1054.39L1093.19 1054.39L1096.41 1054.83L1099.63 1055.24L1102.85 1055.65L1106.07 1056.04L1109.29 1056.41L1112.51 1056.77L1115.73 1057.12L1118.95 1057.46L1122.17 1057.79L1124.10 1057.98L1124.75 981.05L1125.39 1058.11L1125.39 1058.11L1128.61 1058.41L1131.83 1058.71L1135.06 1059.00L1138.28 1059.28L1141.50 1059.55L1144.72 1059.81L1147.94 1060.07L1151.16 1060.32L1154.38 1060.56L1156.31 1060.70L1156.96 994.05L1157.60 1060.80L1157.60 1060.80L1160.82 1061.02L1164.04 1061.25L1167.26 1061.46L1170.48 1061.67L1173.70 1061.88L1176.92 1062.08L1180.15 1062.27L1183.37 1062.46L1186.59 1062.65L1188.52 1062.76L1189.16 1015.40L1189.81 1062.83L1189.81 1062.83L1193.03 1063.00L1196.25 1063.18L1199.47 1063.34L1202.69 1063.51L1205.91 1063.67L1209.13 1063.82L1212.35 1063.98L1215.57 1064.13L1218.79 1064.27L1220.73 1064.36L1221.37 1032.55L1222.01 1064.42L1222.01 1064.42L1225.24 1064.56L1228.46 1064.69L1231.68 1064.83L1234.90 1064.96L1238.12 1065.09L1241.34 1065.21L1244.56 1065.33L1247.78 1065.45L1251.00 1065.57L1252.93 1065.64L1253.58 1033.55L1254.22 1065.69L1254.22 1065.69L1257.44 1065.80L1260.66 1065.91L1263.88 1066.02L1267.10 1066.13L1270.33 1066.23L1273.55 1066.34L1276.77 1066.44L1279.99 1066.54L1283.21 1066.64L1285.14 1066.69L1285.79 1027.55L1286.43 1066.73L1286.43 1066.73L1289.65 1066.83L1292.87 1066.92L1296.09 1067.01L1299.31 1067.10L1302.53 1067.18L1305.75 1067.27L1308.97 1067.36L1312.20 1067.44L1315.42 1067.52L1317.35 1067.57L1317.99 1025.65L1318.64 1067.60L1318.64 1067.60L1321.86 1067.68L1325.08 1067.76L1328.30 1067.83L1331.52 1067.91L1334.74 1067.98L1337.96 1068.06L1341.18 1068.13L1344.40 1068.20L1347.62 1068.27L1349.56 1068.31L1350.20 1031.65L1350.84 1068.34L1350.84 1068.34L1354.06 1068.40L1357.29 1068.47L1360.51 1068.53L1363.73 1068.60L1366.95 1068.66L1370.17 1068.72L1373.39 1068.79L1376.61 1068.85L1379.83 1068.91L1381.76 1068.94L1382.41 1041.90L1383.05 1068.96L1383.05 1068.96L1386.27 1069.02L1389.49 1069.08L1392.71 1069.14L1395.93 1069.19L1399.15 1069.25L1402.38 1069.30L1405.60 1069.35L1408.82 1069.41L1412.04 1069.46L1413.97 1069.49L1414.61 1050.05L1415.26 1069.51L1415.26 1069.51L1418.48 1069.56L1421.70 1069.61L1424.92 1069.66L1428.14 1069.71L1431.36 1069.76L1434.58 1069.80L1437.80 1069.85L1441.02 1069.90L1444.24 1069.94L1446.18 1069.97L1446.82 1049.40L1447.47 1069.99L1447.47 1069.99L1450.69 1070.03L1453.91 1070.07L1457.13 1070.12L1460.35 1070.16L1463.57 1070.20L1466.79 1070.24L1470.01 1070.28L1473.23 1070.33L1476.45 1070.37L1478.38 1070.39L1479.03 1044.65L1479.67 1070.40L1479.67 1070.40L1482.89 1070.44L1486.11 1070.48L1489.33 1070.52L1492.56 1070.56L1495.78 1070.60L1499.00 1070.63L1502.22 1070.67L1505.44 1070.71L1508.66 1070.74L1510.59 1070.76L1511.24 1042.75L1511.88 1070.78L1511.88 1070.78L1515.10 1070.81L1518.32 1070.85L1521.54 1070.88L1524.76 1070.91L1527.98 1070.95L1531.20 1070.98L1534.42 1071.01L1537.65 1071.05L1540.87 1071.08L1542.80 1071.10L1543.44 1045.65L1544.09 1071.11L1544.09 1071.11L1547.31 1071.14L1550.53 1071.17L1553.75 1071.20L1556.97 1071.23L1560.19 1071.26L1563.41 1071.29L1566.63 1071.32L1569.85 1071.35L1573.07 1071.38L1575.01 1071.40L1575.65 1051.00" stroke="#0000ff" stroke-width="1.65" fill="none" stroke-linejoin="round"/>
<path d="M932.15 951.11L932.79 951.49L933.44 951.90L934.08 952.34L934.73 952.82L935.37 953.32L936.01 953.86L936.66 954.43L937.30 955.02L937.95 955.65L938.59 956.31L939.24 957.00L939.88 957.72L940.52 958.46L941.17 959.23L941.81 960.02L942.46 960.84L943.10 961.68L943.74 962.54L944.39 963.43L945.03 964.33L945.68 965.24L946.32 966.17L946.97 967.12L947.61 968.08L948.25 969.04L948.90 970.02L949.54 971.01L950.19 972.00L950.83 972.99L951.47 973.99L952.12 975.00L952.76 976.00L953.41 977.00L954.05 978.01L954.70 979.01L955.34 980.01L955.98 981.00L956.63 981.99L957.27 982.97L957.92 983.95L958.56 984.92L959.20 985.89L959.85 986.84L960.49 987.79L961.14 988.73L961.78 989.66L962.42 990.58L963.07 991.49L963.71 992.39L964.36 993.28L965.00 994.16L965.65 995.03L966.29 995.89L966.93 996.74L967.58 997.57L968.22 998.40L968.87 999.21L969.51 1000.01L970.15 1000.80L971.44 1002.35L972.73 1003.86L974.02 1005.32L975.31 1006.74L976.60 1008.12L977.88 1009.45L979.17 1010.75L980.46 1012.00L981.75 1013.22L983.04 1014.40L984.33 1015.55L985.61 1016.66L986.90 1017.74L988.19 1018.78L989.48 1019.80L990.77 1020.78L992.06 1021.74L993.34 1022.67L994.63 1023.57L995.92 1024.44L997.21 1025.29L998.50 1026.12L999.79 1026.92L1001.07 1027.70L1002.36 1028.46L1003.65 1029.19L1004.94 1029.91L1006.23 1030.61L1007.51 1031.29L1008.80 1031.95L1010.09 1032.59L1011.38 1033.22L1012.67 1033.83L1013.96 1034.43L1015.24 1035.01L1016.53 1035.57L1017.82 1036.13L1019.11 1036.67L1020.40 1037.19L1021.69 1037.70L1022.97 1038.20L1024.26 1038.69L1025.55 1039.17L1026.84 1039.64L1028.13 1040.09L1029.42 1040.54L1030.70 1040.97L1031.99 1041.40L1033.28 1041.82L1034.57 1042.22L1035.86 1042.62L1037.15 1043.01L1038.43 1043.39L1039.72 1043.77L1041.01 1044.13L1042.30 1044.49L1043.59 1044.84L1044.88 1045.18L1046.16 1045.52L1047.45 1045.85L1048.74 1046.18L1050.03 1046.49L1051.32 1046.80L1052.60 1047.11L1053.89 1047.41L1055.18 1047.70L1056.47 1047.99L1057.76 1048.27L1059.05 1048.55L1060.33 1048.82L1065.49 1049.86L1070.64 1050.83L1075.79 1051.74L1080.95 1052.59L1086.10 1053.38L1091.25 1054.12L1096.41 1054.83L1101.56 1055.49L1106.71 1056.11L1111.87 1056.70L1117.02 1057.26L1122.17 1057.79L1127.33 1058.29L1132.48 1058.77L1137.63 1059.22L1142.79 1059.66L1147.94 1060.07L1153.09 1060.46L1158.24 1060.84L1163.40 1061.20L1168.55 1061.55L1173.70 1061.88L1178.86 1062.20L1184.01 1062.50L1189.16 1062.79L1194.32 1063.07L1199.47 1063.34L1204.62 1063.60L1209.78 1063.86L1214.93 1064.10L1220.08 1064.33L1225.24 1064.56L1230.39 1064.77L1235.54 1064.98L1240.70 1065.19L1245.85 1065.38L1251.00 1065.57L1256.15 1065.76L1261.31 1065.94L1266.46 1066.11L1271.61 1066.28L1276.77 1066.44L1281.92 1066.60L1287.07 1066.75L1292.23 1066.90L1297.38 1067.04L1302.53 1067.18L1307.69 1067.32L1312.84 1067.45L1317.99 1067.58L1323.15 1067.71L1328.30 1067.83L1333.45 1067.95L1338.60 1068.07L1343.76 1068.18L1348.91 1068.29L1354.06 1068.40L1359.22 1068.51L1364.37 1068.61L1369.52 1068.71L1374.68 1068.81L1379.83 1068.91L1384.98 1069.00L1390.14 1069.09L1395.29 1069.18L1400.44 1069.27L1405.60 1069.35L1410.75 1069.44L1415.90 1069.52L1421.06 1069.60L1426.21 1069.68L1431.36 1069.76L1436.51 1069.83L1441.67 1069.90L1446.82 1069.98L1451.97 1070.05L1457.13 1070.12L1462.28 1070.18L1467.43 1070.25L1472.59 1070.32L1477.74 1070.38L1482.89 1070.44L1488.05 1070.51L1493.20 1070.57L1498.35 1070.63L1503.51 1070.68L1508.66 1070.74L1513.81 1070.80L1518.97 1070.85L1524.12 1070.91L1529.27 1070.96L1534.42 1071.01L1539.58 1071.06L1544.73 1071.12L1549.88 1071.17L1555.04 1071.21L1560.19 1071.26L1565.34 1071.31L1570.50 1071.36L1575.65 1071.40" stroke="#ff0000" stroke-width="5.6" fill="none" stroke-linejoin="round" stroke-linecap="butt"/></g>
<g class="t">
<text x="85.6" y="350" text-anchor="middle">0</text>
<text x="214.3" y="350" text-anchor="middle">0.2</text>
<text x="343" y="350" text-anchor="middle">0.4</text>
<text x="471.7" y="350" text-anchor="middle">0.6</text>
<text x="600.4" y="350" text-anchor="middle">0.8</text>
<text x="729.1" y="350" text-anchor="middle">1</text>
<text x="78.3" y="326.45" text-anchor="end">-1</text>
<text x="78.3" y="257.82" text-anchor="end">-0.5</text>
<text x="78.3" y="189.2" text-anchor="end">0</text>
<text x="78.3" y="120.58" text-anchor="end">0.5</text>
<text x="78.3" y="51.95" text-anchor="end">1</text>
<text x="931.1" y="350" text-anchor="middle">0</text>
<text x="1059.8" y="350" text-anchor="middle">200</text>
<text x="1188.5" y="350" text-anchor="middle">400</text>
<text x="1317.2" y="350" text-anchor="middle">600</text>
<text x="1445.9" y="350" text-anchor="middle">800</text>
<text x="1574.6" y="350" text-anchor="middle">1000</text>
<text x="923.8" y="326.45" text-anchor="end">0</text>
<text x="923.8" y="189.2" text-anchor="end">0.05</text>
<text x="923.8" y="51.95" text-anchor="end">0.1</text>
<text x="85.6" y="731" text-anchor="middle">0</text>
<text x="214.3" y="731" text-anchor="middle">0.2</text>
<text x="343" y="731" text-anchor="middle">0.4</text>
<text x="471.7" y="731" text-anchor="middle">0.6</text>
<text x="600.4" y="731" text-anchor="middle">0.8</text>
<text x="729.1" y="731" text-anchor="middle">1</text>
<text x="78.3" y="707.45" text-anchor="end">-10</text>
<text x="78.3" y="638.83" text-anchor="end">-5</text>
<text x="78.3" y="570.2" text-anchor="end">0</text>
<text x="78.3" y="501.57" text-anchor="end">5</text>
<text x="78.3" y="432.95" text-anchor="end">10</text>
<text x="931.1" y="731" text-anchor="middle">0</text>
<text x="1059.8" y="731" text-anchor="middle">200</text>
<text x="1188.5" y="731" text-anchor="middle">400</text>
<text x="1317.2" y="731" text-anchor="middle">600</text>
<text x="1445.9" y="731" text-anchor="middle">800</text>
<text x="1574.6" y="731" text-anchor="middle">1000</text>
<text x="923.8" y="707.45" text-anchor="end">0</text>
<text x="923.8" y="638.83" text-anchor="end">0.02</text>
<text x="923.8" y="570.2" text-anchor="end">0.04</text>
<text x="923.8" y="501.57" text-anchor="end">0.06</text>
<text x="923.8" y="432.95" text-anchor="end">0.08</text>
<text x="85.6" y="1110" text-anchor="middle">0</text>
<text x="214.3" y="1110" text-anchor="middle">0.2</text>
<text x="343" y="1110" text-anchor="middle">0.4</text>
<text x="471.7" y="1110" text-anchor="middle">0.6</text>
<text x="600.4" y="1110" text-anchor="middle">0.8</text>
<text x="729.1" y="1110" text-anchor="middle">1</text>
<text x="78.3" y="1086.45" text-anchor="end">-10</text>
<text x="78.3" y="1018.33" text-anchor="end">-5</text>
<text x="78.3" y="950.2" text-anchor="end">0</text>
<text x="78.3" y="882.08" text-anchor="end">5</text>
<text x="78.3" y="813.95" text-anchor="end">10</text>
<text x="1059.28" y="1110" text-anchor="middle">200</text>
<text x="1188.11" y="1110" text-anchor="middle">400</text>
<text x="1316.94" y="1110" text-anchor="middle">600</text>
<text x="1445.77" y="1110" text-anchor="middle">800</text>
<text x="1574.6" y="1110" text-anchor="middle">1000</text>
<text x="923.8" y="1086.45" text-anchor="end">0</text>
<text x="923.8" y="995.62" text-anchor="end">0.05</text>
<text x="923.8" y="904.78" text-anchor="end">0.1</text>
<text x="923.8" y="813.95" text-anchor="end">0.15</text>
</g>
<g class="s" fill="#000" stroke="#000">
<text transform="translate(83.4 27.4) scale(1 0.96)">(a)</text>
<text transform="translate(930.9 25.3) scale(1 0.96)">(b)</text>
<text transform="translate(81.5 404.1) scale(1 0.96)">(c)</text>
<text transform="translate(930.9 412.6) scale(1 0.96)">(d)</text>
<text transform="translate(87.4 793.3) scale(1 0.96)">(e)</text>
<text transform="translate(929.0 787.15) scale(1 0.96)">(f)</text>
</g>
<g class="s" fill="#262626" stroke="#262626">
<text transform="translate(408.25 1152.4) scale(1 0.96)" text-anchor="middle">Time/s</text>
<text transform="translate(1253.75 1152.2) scale(1 0.96)" text-anchor="middle">Frequency/Hz</text>
<text transform="translate(24.8 560.3) rotate(-90) scale(1 0.96)" text-anchor="middle">Amplitude</text>
<text transform="translate(838.8 557.9) rotate(-90) scale(1 0.96)" text-anchor="middle">Amplitude</text>
</g>
</svg></body></html>
